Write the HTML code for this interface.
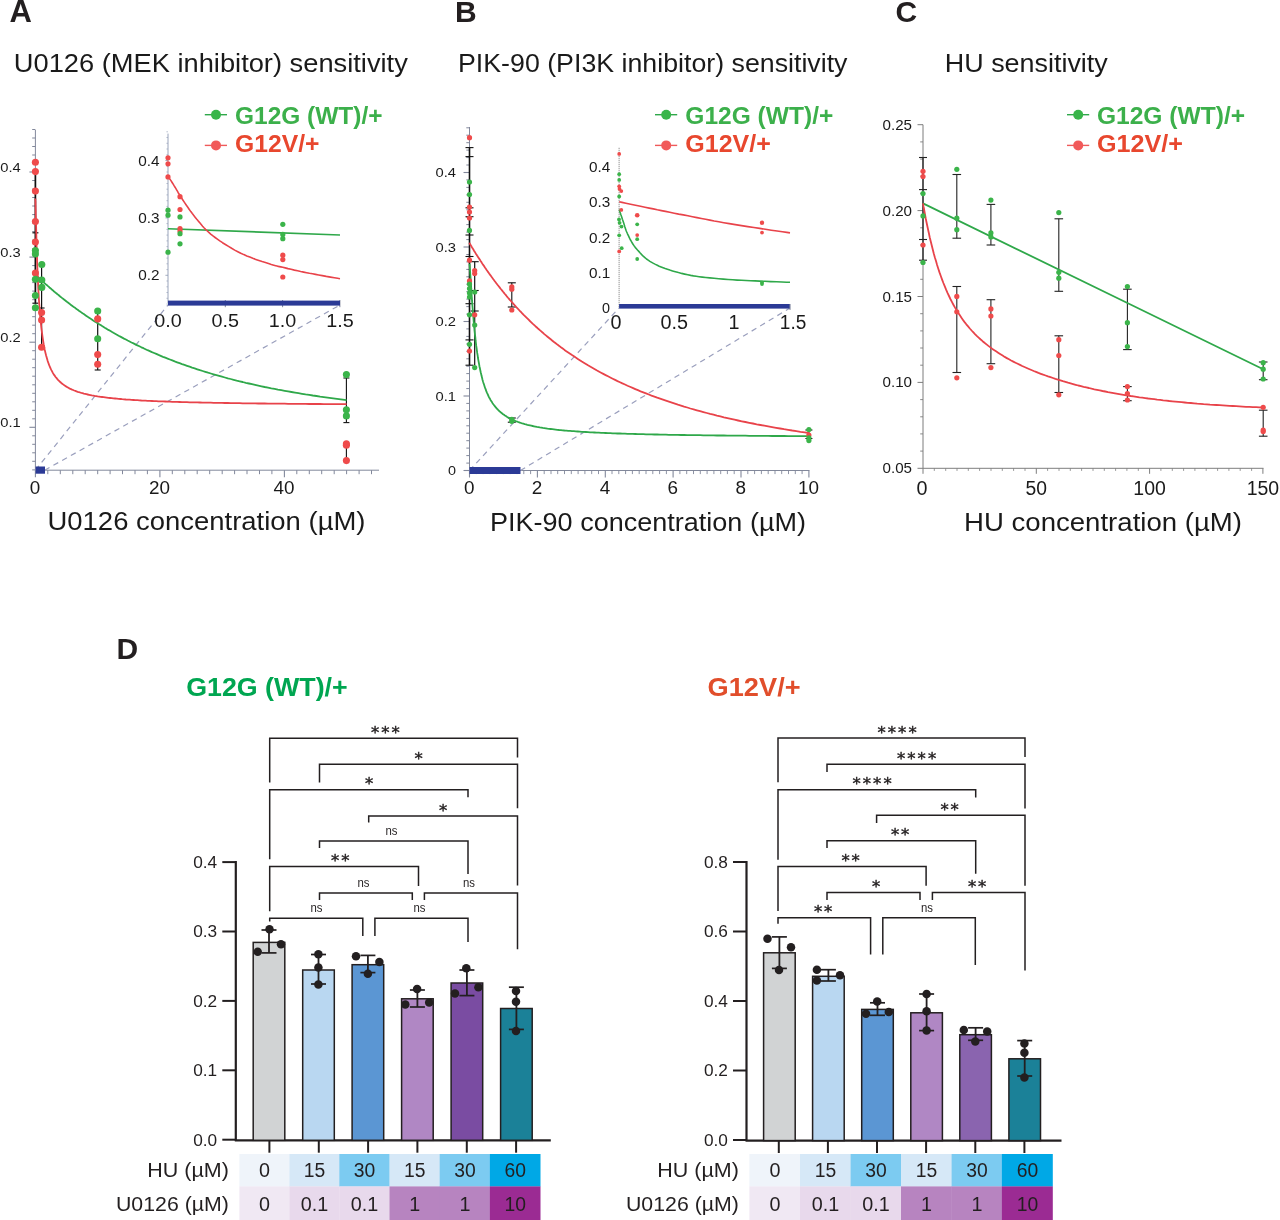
<!DOCTYPE html>
<html lang="en"><head><meta charset="utf-8"><title>Figure</title>
<style>html,body{margin:0;padding:0;background:#fff}svg{display:block}text{font-family:'Liberation Sans', sans-serif}text.st{font-family:'DejaVu Sans',sans-serif}</style></head><body>
<svg width="1280" height="1220" viewBox="0 0 1280 1220">
<rect width="1280" height="1220" fill="#fff"/>
<text x="9.4" y="21.5" font-size="31" font-weight="bold" fill="#231f20">A</text>
<text x="13.8" y="71.8" font-size="26" textLength="394.0" lengthAdjust="spacingAndGlyphs" fill="#1a1a1a">U0126 (MEK inhibitor) sensitivity</text>
<line x1="204.8" y1="114.7" x2="227.0" y2="114.7" stroke="#2fa84a" stroke-width="1.4"/>
<circle cx="216.0" cy="114.7" r="5" fill="#39b54a"/>
<text x="235.0" y="123.9" font-size="24.2" font-weight="bold" textLength="147.5" lengthAdjust="spacingAndGlyphs" fill="#3cb04b">G12G (WT)/+</text>
<line x1="204.8" y1="145.4" x2="227.0" y2="145.4" stroke="#ef5a5a" stroke-width="1.4"/>
<circle cx="216.0" cy="145.4" r="5" fill="#f15a5a"/>
<text x="235.0" y="151.8" font-size="24.2" font-weight="bold" textLength="84.5" lengthAdjust="spacingAndGlyphs" fill="#e8472e">G12V/+</text>
<line x1="35.4" y1="130.0" x2="35.4" y2="470.2" stroke="#82889b" stroke-width="1"/>
<line x1="35.4" y1="470.2" x2="379.0" y2="470.2" stroke="#82889b" stroke-width="1"/>
<line x1="32.2" y1="469.9" x2="35.4" y2="469.9" stroke="#82889b" stroke-width="1"/>
<line x1="32.2" y1="461.3" x2="35.4" y2="461.3" stroke="#82889b" stroke-width="1"/>
<line x1="32.2" y1="452.8" x2="35.4" y2="452.8" stroke="#82889b" stroke-width="1"/>
<line x1="32.2" y1="444.3" x2="35.4" y2="444.3" stroke="#82889b" stroke-width="1"/>
<line x1="32.2" y1="435.8" x2="35.4" y2="435.8" stroke="#82889b" stroke-width="1"/>
<line x1="29.4" y1="427.3" x2="35.4" y2="427.3" stroke="#82889b" stroke-width="1.1"/>
<line x1="32.2" y1="418.8" x2="35.4" y2="418.8" stroke="#82889b" stroke-width="1"/>
<line x1="32.2" y1="410.3" x2="35.4" y2="410.3" stroke="#82889b" stroke-width="1"/>
<line x1="32.2" y1="401.8" x2="35.4" y2="401.8" stroke="#82889b" stroke-width="1"/>
<line x1="32.2" y1="393.3" x2="35.4" y2="393.3" stroke="#82889b" stroke-width="1"/>
<line x1="32.2" y1="384.8" x2="35.4" y2="384.8" stroke="#82889b" stroke-width="1"/>
<line x1="32.2" y1="376.2" x2="35.4" y2="376.2" stroke="#82889b" stroke-width="1"/>
<line x1="32.2" y1="367.7" x2="35.4" y2="367.7" stroke="#82889b" stroke-width="1"/>
<line x1="32.2" y1="359.2" x2="35.4" y2="359.2" stroke="#82889b" stroke-width="1"/>
<line x1="32.2" y1="350.7" x2="35.4" y2="350.7" stroke="#82889b" stroke-width="1"/>
<line x1="29.4" y1="342.2" x2="35.4" y2="342.2" stroke="#82889b" stroke-width="1.1"/>
<line x1="32.2" y1="333.7" x2="35.4" y2="333.7" stroke="#82889b" stroke-width="1"/>
<line x1="32.2" y1="325.2" x2="35.4" y2="325.2" stroke="#82889b" stroke-width="1"/>
<line x1="32.2" y1="316.7" x2="35.4" y2="316.7" stroke="#82889b" stroke-width="1"/>
<line x1="32.2" y1="308.2" x2="35.4" y2="308.2" stroke="#82889b" stroke-width="1"/>
<line x1="32.2" y1="299.7" x2="35.4" y2="299.7" stroke="#82889b" stroke-width="1"/>
<line x1="32.2" y1="291.1" x2="35.4" y2="291.1" stroke="#82889b" stroke-width="1"/>
<line x1="32.2" y1="282.6" x2="35.4" y2="282.6" stroke="#82889b" stroke-width="1"/>
<line x1="32.2" y1="274.1" x2="35.4" y2="274.1" stroke="#82889b" stroke-width="1"/>
<line x1="32.2" y1="265.6" x2="35.4" y2="265.6" stroke="#82889b" stroke-width="1"/>
<line x1="29.4" y1="257.1" x2="35.4" y2="257.1" stroke="#82889b" stroke-width="1.1"/>
<line x1="32.2" y1="248.6" x2="35.4" y2="248.6" stroke="#82889b" stroke-width="1"/>
<line x1="32.2" y1="240.1" x2="35.4" y2="240.1" stroke="#82889b" stroke-width="1"/>
<line x1="32.2" y1="231.6" x2="35.4" y2="231.6" stroke="#82889b" stroke-width="1"/>
<line x1="32.2" y1="223.1" x2="35.4" y2="223.1" stroke="#82889b" stroke-width="1"/>
<line x1="32.2" y1="214.6" x2="35.4" y2="214.6" stroke="#82889b" stroke-width="1"/>
<line x1="32.2" y1="206.0" x2="35.4" y2="206.0" stroke="#82889b" stroke-width="1"/>
<line x1="32.2" y1="197.5" x2="35.4" y2="197.5" stroke="#82889b" stroke-width="1"/>
<line x1="32.2" y1="189.0" x2="35.4" y2="189.0" stroke="#82889b" stroke-width="1"/>
<line x1="32.2" y1="180.5" x2="35.4" y2="180.5" stroke="#82889b" stroke-width="1"/>
<line x1="29.4" y1="172.0" x2="35.4" y2="172.0" stroke="#82889b" stroke-width="1.1"/>
<line x1="32.2" y1="163.5" x2="35.4" y2="163.5" stroke="#82889b" stroke-width="1"/>
<line x1="32.2" y1="155.0" x2="35.4" y2="155.0" stroke="#82889b" stroke-width="1"/>
<line x1="32.2" y1="146.5" x2="35.4" y2="146.5" stroke="#82889b" stroke-width="1"/>
<line x1="32.2" y1="138.0" x2="35.4" y2="138.0" stroke="#82889b" stroke-width="1"/>
<line x1="32.2" y1="129.5" x2="35.4" y2="129.5" stroke="#82889b" stroke-width="1"/>
<line x1="35.4" y1="470.2" x2="35.4" y2="477.2" stroke="#82889b" stroke-width="1.1"/>
<line x1="47.8" y1="470.2" x2="47.8" y2="474.2" stroke="#82889b" stroke-width="1"/>
<line x1="60.3" y1="470.2" x2="60.3" y2="474.2" stroke="#82889b" stroke-width="1"/>
<line x1="72.8" y1="470.2" x2="72.8" y2="474.2" stroke="#82889b" stroke-width="1"/>
<line x1="85.2" y1="470.2" x2="85.2" y2="474.2" stroke="#82889b" stroke-width="1"/>
<line x1="97.7" y1="470.2" x2="97.7" y2="474.2" stroke="#82889b" stroke-width="1"/>
<line x1="110.1" y1="470.2" x2="110.1" y2="474.2" stroke="#82889b" stroke-width="1"/>
<line x1="122.5" y1="470.2" x2="122.5" y2="474.2" stroke="#82889b" stroke-width="1"/>
<line x1="135.0" y1="470.2" x2="135.0" y2="474.2" stroke="#82889b" stroke-width="1"/>
<line x1="147.4" y1="470.2" x2="147.4" y2="474.2" stroke="#82889b" stroke-width="1"/>
<line x1="159.9" y1="470.2" x2="159.9" y2="477.2" stroke="#82889b" stroke-width="1.1"/>
<line x1="172.3" y1="470.2" x2="172.3" y2="474.2" stroke="#82889b" stroke-width="1"/>
<line x1="184.8" y1="470.2" x2="184.8" y2="474.2" stroke="#82889b" stroke-width="1"/>
<line x1="197.2" y1="470.2" x2="197.2" y2="474.2" stroke="#82889b" stroke-width="1"/>
<line x1="209.7" y1="470.2" x2="209.7" y2="474.2" stroke="#82889b" stroke-width="1"/>
<line x1="222.2" y1="470.2" x2="222.2" y2="474.2" stroke="#82889b" stroke-width="1"/>
<line x1="234.6" y1="470.2" x2="234.6" y2="474.2" stroke="#82889b" stroke-width="1"/>
<line x1="247.0" y1="470.2" x2="247.0" y2="474.2" stroke="#82889b" stroke-width="1"/>
<line x1="259.5" y1="470.2" x2="259.5" y2="474.2" stroke="#82889b" stroke-width="1"/>
<line x1="271.9" y1="470.2" x2="271.9" y2="474.2" stroke="#82889b" stroke-width="1"/>
<line x1="284.4" y1="470.2" x2="284.4" y2="477.2" stroke="#82889b" stroke-width="1.1"/>
<line x1="296.8" y1="470.2" x2="296.8" y2="474.2" stroke="#82889b" stroke-width="1"/>
<line x1="309.3" y1="470.2" x2="309.3" y2="474.2" stroke="#82889b" stroke-width="1"/>
<line x1="321.7" y1="470.2" x2="321.7" y2="474.2" stroke="#82889b" stroke-width="1"/>
<line x1="334.2" y1="470.2" x2="334.2" y2="474.2" stroke="#82889b" stroke-width="1"/>
<line x1="346.6" y1="470.2" x2="346.6" y2="474.2" stroke="#82889b" stroke-width="1"/>
<line x1="359.1" y1="470.2" x2="359.1" y2="474.2" stroke="#82889b" stroke-width="1"/>
<line x1="371.5" y1="470.2" x2="371.5" y2="474.2" stroke="#82889b" stroke-width="1"/>
<text x="20.8" y="171.6" font-size="13.6" text-anchor="end" textLength="20.5" lengthAdjust="spacingAndGlyphs" fill="#1a1a1a">0.4</text>
<text x="20.8" y="256.7" font-size="13.6" text-anchor="end" textLength="20.5" lengthAdjust="spacingAndGlyphs" fill="#1a1a1a">0.3</text>
<text x="20.8" y="341.8" font-size="13.6" text-anchor="end" textLength="20.5" lengthAdjust="spacingAndGlyphs" fill="#1a1a1a">0.2</text>
<text x="20.8" y="426.9" font-size="13.6" text-anchor="end" textLength="20.5" lengthAdjust="spacingAndGlyphs" fill="#1a1a1a">0.1</text>
<text x="34.9" y="494.4" font-size="19" text-anchor="middle" textLength="10.5" lengthAdjust="spacingAndGlyphs" fill="#1a1a1a">0</text>
<text x="159.4" y="494.4" font-size="19" text-anchor="middle" textLength="21.0" lengthAdjust="spacingAndGlyphs" fill="#1a1a1a">20</text>
<text x="283.9" y="494.4" font-size="19" text-anchor="middle" textLength="21.0" lengthAdjust="spacingAndGlyphs" fill="#1a1a1a">40</text>
<text x="47.5" y="530.0" font-size="26" textLength="318.0" lengthAdjust="spacingAndGlyphs" fill="#1a1a1a">U0126 concentration (µM)</text>
<line x1="35.4" y1="470.2" x2="168.0" y2="305.0" stroke="#9a9fbd" stroke-width="1.2" stroke-dasharray="5.5,4.5"/>
<line x1="44.7" y1="470.2" x2="340.0" y2="305.0" stroke="#9a9fbd" stroke-width="1.2" stroke-dasharray="5.5,4.5"/>
<line x1="35.4" y1="171.0" x2="35.4" y2="303.2" stroke="#111" stroke-width="1.7"/>
<line x1="32.4" y1="232.8" x2="38.4" y2="232.8" stroke="#111" stroke-width="1.2"/>
<line x1="32.4" y1="303.2" x2="38.4" y2="303.2" stroke="#111" stroke-width="1.2"/>
<line x1="41.6" y1="262.0" x2="41.6" y2="347.0" stroke="#111" stroke-width="1.2"/>
<line x1="38.6" y1="308.0" x2="44.6" y2="308.0" stroke="#111" stroke-width="1.1"/>
<line x1="97.7" y1="311.0" x2="97.7" y2="370.0" stroke="#111" stroke-width="1.2"/>
<line x1="94.7" y1="370.0" x2="100.7" y2="370.0" stroke="#111" stroke-width="1.1"/>
<line x1="94.7" y1="318.5" x2="100.7" y2="318.5" stroke="#111" stroke-width="1.1"/>
<line x1="346.4" y1="378.0" x2="346.4" y2="422.6" stroke="#111" stroke-width="1.1"/>
<line x1="343.4" y1="378.0" x2="349.4" y2="378.0" stroke="#111" stroke-width="1.1"/>
<line x1="343.4" y1="422.6" x2="349.4" y2="422.6" stroke="#111" stroke-width="1.1"/>
<line x1="346.4" y1="445.0" x2="346.4" y2="460.0" stroke="#111" stroke-width="1.1"/>
<path d="M35.4,274.6 L35.4,274.6 L35.4,274.6 L35.4,274.6 L35.4,274.6 L35.4,274.6 L35.4,274.7 L35.5,274.7 L35.5,274.7 L35.5,274.7 L35.6,274.8 L35.6,274.8 L35.7,274.9 L35.7,274.9 L35.8,275.0 L35.9,275.1 L36.0,275.2 L36.1,275.2 L36.2,275.3 L36.3,275.4 L36.4,275.6 L36.5,275.7 L36.6,275.8 L36.8,275.9 L37.0,276.1 L37.1,276.2 L37.3,276.4 L37.5,276.6 L37.7,276.8 L37.9,277.0 L38.1,277.2 L38.3,277.4 L38.6,277.6 L38.8,277.9 L39.1,278.1 L39.4,278.4 L39.7,278.6 L40.0,278.9 L40.3,279.2 L40.6,279.5 L41.0,279.8 L41.3,280.2 L41.7,280.5 L42.1,280.8 L42.5,281.2 L42.9,281.6 L43.3,282.0 L43.7,282.4 L44.2,282.8 L44.6,283.2 L45.1,283.6 L45.6,284.1 L46.1,284.5 L46.7,285.0 L47.2,285.4 L47.7,285.9 L48.3,286.4 L48.9,286.9 L49.5,287.5 L50.1,288.0 L50.7,288.6 L51.4,289.1 L52.1,289.7 L52.7,290.3 L53.4,290.8 L54.1,291.5 L54.9,292.1 L55.6,292.7 L56.4,293.3 L57.2,294.0 L58.0,294.6 L58.8,295.3 L59.6,296.0 L60.5,296.7 L61.3,297.4 L62.2,298.1 L63.1,298.8 L64.0,299.5 L65.0,300.3 L65.9,301.0 L66.9,301.8 L67.9,302.5 L68.9,303.3 L69.9,304.1 L71.0,304.9 L72.1,305.7 L73.1,306.5 L74.2,307.3 L75.4,308.1 L76.5,309.0 L77.7,309.8 L78.9,310.7 L80.1,311.5 L81.3,312.4 L82.5,313.3 L83.8,314.1 L85.1,315.0 L86.4,315.9 L87.7,316.8 L89.1,317.7 L90.4,318.6 L91.8,319.5 L93.2,320.5 L94.6,321.4 L96.1,322.3 L97.6,323.3 L99.1,324.2 L100.6,325.1 L102.1,326.1 L103.6,327.0 L105.2,328.0 L106.8,328.9 L108.4,329.9 L110.1,330.8 L111.7,331.8 L113.4,332.8 L115.1,333.7 L116.9,334.7 L118.6,335.7 L120.4,336.6 L122.2,337.6 L124.0,338.6 L125.9,339.5 L127.7,340.5 L129.6,341.5 L131.5,342.5 L133.5,343.4 L135.4,344.4 L137.4,345.4 L139.4,346.3 L141.4,347.3 L143.5,348.2 L145.5,349.2 L147.6,350.2 L149.8,351.1 L151.9,352.1 L154.1,353.0 L156.3,353.9 L158.5,354.9 L160.7,355.8 L163.0,356.8 L165.3,357.7 L167.6,358.6 L169.9,359.5 L172.3,360.4 L174.7,361.4 L177.1,362.3 L179.6,363.2 L182.0,364.1 L184.5,364.9 L187.0,365.8 L189.6,366.7 L192.1,367.6 L194.7,368.4 L197.3,369.3 L200.0,370.2 L202.6,371.0 L205.3,371.8 L208.1,372.7 L210.8,373.5 L213.6,374.3 L216.4,375.1 L219.2,375.9 L222.0,376.7 L224.9,377.5 L227.8,378.3 L230.7,379.0 L233.7,379.8 L236.7,380.6 L239.7,381.3 L242.7,382.0 L245.8,382.8 L248.9,383.5 L252.0,384.2 L255.1,384.9 L258.3,385.6 L261.5,386.3 L264.7,387.0 L268.0,387.6 L271.3,388.3 L274.6,388.9 L277.9,389.6 L281.3,390.2 L284.7,390.8 L288.1,391.4 L291.5,392.0 L295.0,392.6 L298.5,393.2 L302.0,393.8 L305.6,394.4 L309.2,394.9 L312.8,395.5 L316.5,396.0 L320.1,396.6 L323.8,397.1 L327.6,397.6 L331.3,398.1 L335.1,398.6 L338.9,399.1 L342.8,399.6 L346.6,400.1" fill="none" stroke="#2fa84a" stroke-width="1.8" stroke-linejoin="round"/>
<path d="M35.4,198.5 L35.4,198.5 L35.4,198.6 L35.4,198.8 L35.4,199.2 L35.4,199.7 L35.4,200.5 L35.5,201.5 L35.5,202.7 L35.5,204.2 L35.6,206.0 L35.6,208.1 L35.7,210.4 L35.7,213.1 L35.8,216.0 L35.9,219.2 L36.0,222.7 L36.1,226.4 L36.2,230.3 L36.3,234.4 L36.4,238.6 L36.5,243.0 L36.6,247.5 L36.8,252.2 L37.0,256.8 L37.1,261.5 L37.3,266.2 L37.5,270.9 L37.7,275.6 L37.9,280.2 L38.1,284.8 L38.3,289.2 L38.6,293.6 L38.8,297.9 L39.1,302.0 L39.4,306.0 L39.7,310.0 L40.0,313.7 L40.3,317.4 L40.6,320.9 L41.0,324.3 L41.3,327.5 L41.7,330.7 L42.1,333.7 L42.5,336.6 L42.9,339.3 L43.3,342.0 L43.7,344.5 L44.2,346.9 L44.6,349.2 L45.1,351.4 L45.6,353.5 L46.1,355.5 L46.7,357.5 L47.2,359.3 L47.7,361.1 L48.3,362.7 L48.9,364.4 L49.5,365.9 L50.1,367.3 L50.7,368.7 L51.4,370.1 L52.1,371.4 L52.7,372.6 L53.4,373.8 L54.1,374.9 L54.9,375.9 L55.6,377.0 L56.4,377.9 L57.2,378.9 L58.0,379.8 L58.8,380.6 L59.6,381.5 L60.5,382.2 L61.3,383.0 L62.2,383.7 L63.1,384.4 L64.0,385.1 L65.0,385.7 L65.9,386.4 L66.9,386.9 L67.9,387.5 L68.9,388.1 L69.9,388.6 L71.0,389.1 L72.1,389.6 L73.1,390.0 L74.2,390.5 L75.4,390.9 L76.5,391.4 L77.7,391.8 L78.9,392.1 L80.1,392.5 L81.3,392.9 L82.5,393.2 L83.8,393.6 L85.1,393.9 L86.4,394.2 L87.7,394.5 L89.1,394.8 L90.4,395.1 L91.8,395.4 L93.2,395.6 L94.6,395.9 L96.1,396.1 L97.6,396.4 L99.1,396.6 L100.6,396.8 L102.1,397.0 L103.6,397.2 L105.2,397.4 L106.8,397.6 L108.4,397.8 L110.1,398.0 L111.7,398.2 L113.4,398.4 L115.1,398.5 L116.9,398.7 L118.6,398.9 L120.4,399.0 L122.2,399.2 L124.0,399.3 L125.9,399.5 L127.7,399.6 L129.6,399.7 L131.5,399.9 L133.5,400.0 L135.4,400.1 L137.4,400.2 L139.4,400.3 L141.4,400.5 L143.5,400.6 L145.5,400.7 L147.6,400.8 L149.8,400.9 L151.9,401.0 L154.1,401.1 L156.3,401.2 L158.5,401.3 L160.7,401.3 L163.0,401.4 L165.3,401.5 L167.6,401.6 L169.9,401.7 L172.3,401.8 L174.7,401.8 L177.1,401.9 L179.6,402.0 L182.0,402.1 L184.5,402.1 L187.0,402.2 L189.6,402.3 L192.1,402.3 L194.7,402.4 L197.3,402.4 L200.0,402.5 L202.6,402.6 L205.3,402.6 L208.1,402.7 L210.8,402.7 L213.6,402.8 L216.4,402.8 L219.2,402.9 L222.0,402.9 L224.9,403.0 L227.8,403.0 L230.7,403.1 L233.7,403.1 L236.7,403.2 L239.7,403.2 L242.7,403.3 L245.8,403.3 L248.9,403.3 L252.0,403.4 L255.1,403.4 L258.3,403.5 L261.5,403.5 L264.7,403.5 L268.0,403.6 L271.3,403.6 L274.6,403.6 L277.9,403.7 L281.3,403.7 L284.7,403.7 L288.1,403.8 L291.5,403.8 L295.0,403.8 L298.5,403.9 L302.0,403.9 L305.6,403.9 L309.2,404.0 L312.8,404.0 L316.5,404.0 L320.1,404.0 L323.8,404.1 L327.6,404.1 L331.3,404.1 L335.1,404.1 L338.9,404.2 L342.8,404.2 L346.6,404.2" fill="none" stroke="#e8434a" stroke-width="1.8" stroke-linejoin="round"/>
<circle cx="35.4" cy="162.3" r="3.55" fill="#ef4b4b"/>
<circle cx="35.4" cy="171.6" r="3.55" fill="#ef4b4b"/>
<circle cx="35.4" cy="191.1" r="3.55" fill="#ef4b4b"/>
<circle cx="35.4" cy="221.5" r="3.55" fill="#ef4b4b"/>
<circle cx="35.4" cy="242.0" r="3.55" fill="#ef4b4b"/>
<circle cx="35.4" cy="273.0" r="3.55" fill="#ef4b4b"/>
<circle cx="35.4" cy="250.5" r="3.55" fill="#3bb44a"/>
<circle cx="35.4" cy="254.0" r="3.55" fill="#3bb44a"/>
<circle cx="35.4" cy="279.3" r="3.55" fill="#3bb44a"/>
<circle cx="35.4" cy="295.5" r="3.55" fill="#3bb44a"/>
<circle cx="35.4" cy="307.7" r="3.55" fill="#3bb44a"/>
<circle cx="41.8" cy="264.5" r="3.55" fill="#3bb44a"/>
<circle cx="41.8" cy="280.0" r="3.55" fill="#3bb44a"/>
<circle cx="41.8" cy="287.4" r="3.55" fill="#3bb44a"/>
<circle cx="41.6" cy="312.5" r="3.55" fill="#ef4b4b"/>
<circle cx="41.6" cy="320.0" r="3.55" fill="#ef4b4b"/>
<circle cx="41.6" cy="347.2" r="3.55" fill="#ef4b4b"/>
<circle cx="97.7" cy="311.0" r="3.55" fill="#3bb44a"/>
<circle cx="97.7" cy="318.9" r="3.55" fill="#ef4b4b"/>
<circle cx="97.7" cy="338.7" r="3.55" fill="#3bb44a"/>
<circle cx="97.7" cy="354.6" r="3.55" fill="#ef4b4b"/>
<circle cx="97.7" cy="364.2" r="3.55" fill="#ef4b4b"/>
<circle cx="346.4" cy="374.6" r="3.55" fill="#3bb44a"/>
<circle cx="346.4" cy="409.8" r="3.55" fill="#3bb44a"/>
<circle cx="346.4" cy="415.9" r="3.55" fill="#3bb44a"/>
<circle cx="346.4" cy="443.8" r="3.55" fill="#ef4b4b"/>
<circle cx="346.4" cy="445.2" r="3.55" fill="#ef4b4b"/>
<circle cx="346.4" cy="460.6" r="3.55" fill="#ef4b4b"/>
<rect x="35.6" y="466.5" width="9.4" height="7.2" fill="#2b3a96"/>
<line x1="168.0" y1="133.6" x2="168.0" y2="303.0" stroke="#8e9ab3" stroke-width="0.9"/>
<line x1="166.4" y1="304.0" x2="168.0" y2="304.0" stroke="#8e9ab3" stroke-width="0.6"/>
<line x1="166.4" y1="298.3" x2="168.0" y2="298.3" stroke="#8e9ab3" stroke-width="0.6"/>
<line x1="166.4" y1="292.5" x2="168.0" y2="292.5" stroke="#8e9ab3" stroke-width="0.6"/>
<line x1="166.4" y1="286.8" x2="168.0" y2="286.8" stroke="#8e9ab3" stroke-width="0.6"/>
<line x1="166.4" y1="281.0" x2="168.0" y2="281.0" stroke="#8e9ab3" stroke-width="0.6"/>
<line x1="165.4" y1="275.3" x2="168.0" y2="275.3" stroke="#8e9ab3" stroke-width="0.8"/>
<line x1="166.4" y1="269.6" x2="168.0" y2="269.6" stroke="#8e9ab3" stroke-width="0.6"/>
<line x1="166.4" y1="263.8" x2="168.0" y2="263.8" stroke="#8e9ab3" stroke-width="0.6"/>
<line x1="166.4" y1="258.1" x2="168.0" y2="258.1" stroke="#8e9ab3" stroke-width="0.6"/>
<line x1="166.4" y1="252.3" x2="168.0" y2="252.3" stroke="#8e9ab3" stroke-width="0.6"/>
<line x1="166.4" y1="246.6" x2="168.0" y2="246.6" stroke="#8e9ab3" stroke-width="0.6"/>
<line x1="166.4" y1="240.9" x2="168.0" y2="240.9" stroke="#8e9ab3" stroke-width="0.6"/>
<line x1="166.4" y1="235.1" x2="168.0" y2="235.1" stroke="#8e9ab3" stroke-width="0.6"/>
<line x1="166.4" y1="229.4" x2="168.0" y2="229.4" stroke="#8e9ab3" stroke-width="0.6"/>
<line x1="166.4" y1="223.6" x2="168.0" y2="223.6" stroke="#8e9ab3" stroke-width="0.6"/>
<line x1="165.4" y1="217.9" x2="168.0" y2="217.9" stroke="#8e9ab3" stroke-width="0.8"/>
<line x1="166.4" y1="212.2" x2="168.0" y2="212.2" stroke="#8e9ab3" stroke-width="0.6"/>
<line x1="166.4" y1="206.4" x2="168.0" y2="206.4" stroke="#8e9ab3" stroke-width="0.6"/>
<line x1="166.4" y1="200.7" x2="168.0" y2="200.7" stroke="#8e9ab3" stroke-width="0.6"/>
<line x1="166.4" y1="194.9" x2="168.0" y2="194.9" stroke="#8e9ab3" stroke-width="0.6"/>
<line x1="166.4" y1="189.2" x2="168.0" y2="189.2" stroke="#8e9ab3" stroke-width="0.6"/>
<line x1="166.4" y1="183.5" x2="168.0" y2="183.5" stroke="#8e9ab3" stroke-width="0.6"/>
<line x1="166.4" y1="177.7" x2="168.0" y2="177.7" stroke="#8e9ab3" stroke-width="0.6"/>
<line x1="166.4" y1="172.0" x2="168.0" y2="172.0" stroke="#8e9ab3" stroke-width="0.6"/>
<line x1="166.4" y1="166.2" x2="168.0" y2="166.2" stroke="#8e9ab3" stroke-width="0.6"/>
<line x1="165.4" y1="160.5" x2="168.0" y2="160.5" stroke="#8e9ab3" stroke-width="0.8"/>
<line x1="166.4" y1="154.8" x2="168.0" y2="154.8" stroke="#8e9ab3" stroke-width="0.6"/>
<line x1="166.4" y1="149.0" x2="168.0" y2="149.0" stroke="#8e9ab3" stroke-width="0.6"/>
<line x1="166.4" y1="143.3" x2="168.0" y2="143.3" stroke="#8e9ab3" stroke-width="0.6"/>
<line x1="166.4" y1="137.5" x2="168.0" y2="137.5" stroke="#8e9ab3" stroke-width="0.6"/>
<line x1="166.4" y1="131.8" x2="168.0" y2="131.8" stroke="#8e9ab3" stroke-width="0.6"/>
<line x1="225.3" y1="300.0" x2="225.3" y2="307.2" stroke="#82889b" stroke-width="1"/>
<line x1="282.6" y1="300.0" x2="282.6" y2="307.2" stroke="#82889b" stroke-width="1"/>
<line x1="339.9" y1="300.0" x2="339.9" y2="307.2" stroke="#82889b" stroke-width="1"/>
<rect x="168" y="300.6" width="172" height="5" fill="#2b3a96"/>
<text x="159.6" y="165.6" font-size="14.6" text-anchor="end" textLength="21.3" lengthAdjust="spacingAndGlyphs" fill="#1a1a1a">0.4</text>
<text x="159.6" y="223.0" font-size="14.6" text-anchor="end" textLength="21.3" lengthAdjust="spacingAndGlyphs" fill="#1a1a1a">0.3</text>
<text x="159.6" y="280.4" font-size="14.6" text-anchor="end" textLength="21.3" lengthAdjust="spacingAndGlyphs" fill="#1a1a1a">0.2</text>
<text x="168.0" y="326.8" font-size="18.6" text-anchor="middle" textLength="27.5" lengthAdjust="spacingAndGlyphs" fill="#1a1a1a">0.0</text>
<text x="225.3" y="326.8" font-size="18.6" text-anchor="middle" textLength="27.5" lengthAdjust="spacingAndGlyphs" fill="#1a1a1a">0.5</text>
<text x="282.6" y="326.8" font-size="18.6" text-anchor="middle" textLength="27.5" lengthAdjust="spacingAndGlyphs" fill="#1a1a1a">1.0</text>
<text x="339.9" y="326.8" font-size="18.6" text-anchor="middle" textLength="27.5" lengthAdjust="spacingAndGlyphs" fill="#1a1a1a">1.5</text>
<path d="M168.0,228.7 L340.0,235.0" fill="none" stroke="#2fa84a" stroke-width="1.6" stroke-linejoin="round"/>
<path d="M168.0,176.5 L168.1,176.6 L168.1,176.6 L168.2,176.7 L168.4,176.9 L168.7,177.3 L169.2,178.0 L169.9,179.1 L170.8,180.4 L171.8,182.0 L172.9,183.7 L173.9,185.4 L174.9,187.0 L175.8,188.4 L176.6,189.8 L177.4,191.2 L178.2,192.7 L179.2,194.2 L180.3,196.0 L181.6,198.0 L183.0,200.2 L184.6,202.6 L186.2,205.0 L187.8,207.3 L189.3,209.5 L190.8,211.6 L192.3,213.6 L193.8,215.5 L195.3,217.4 L196.8,219.3 L198.3,221.1 L199.8,222.8 L201.2,224.5 L202.6,226.2 L204.0,227.8 L205.6,229.4 L207.3,231.0 L209.1,232.6 L211.0,234.3 L213.0,235.9 L215.1,237.5 L217.4,239.2 L219.8,240.9 L222.5,242.7 L225.4,244.5 L228.5,246.4 L231.6,248.3 L234.7,250.1 L237.8,251.7 L240.8,253.2 L243.8,254.6 L246.8,255.9 L249.8,257.1 L252.8,258.3 L255.8,259.4 L258.9,260.5 L262.1,261.6 L265.4,262.6 L268.5,263.6 L271.3,264.5 L273.8,265.2 L275.7,265.7 L277.1,266.1 L278.2,266.4 L279.4,266.6 L280.8,266.9 L282.7,267.3 L285.2,267.9 L288.0,268.6 L291.1,269.3 L294.4,270.1 L297.6,270.8 L300.7,271.5 L303.7,272.1 L306.6,272.7 L309.5,273.3 L312.5,273.8 L315.5,274.4 L318.7,275.0 L322.3,275.6 L326.3,276.4 L330.5,277.1 L334.4,277.7 L337.6,278.3 L340.0,278.7" fill="none" stroke="#e8434a" stroke-width="1.6" stroke-linejoin="round"/>
<circle cx="168.0" cy="157.8" r="2.6" fill="#ef4b4b"/>
<circle cx="168.0" cy="163.8" r="2.6" fill="#ef4b4b"/>
<circle cx="168.0" cy="176.9" r="2.6" fill="#ef4b4b"/>
<circle cx="168.0" cy="210.2" r="2.6" fill="#3bb44a"/>
<circle cx="168.0" cy="215.2" r="2.6" fill="#3bb44a"/>
<circle cx="168.0" cy="252.2" r="2.6" fill="#3bb44a"/>
<circle cx="180.0" cy="196.7" r="2.6" fill="#ef4b4b"/>
<circle cx="180.0" cy="209.5" r="2.6" fill="#ef4b4b"/>
<circle cx="180.0" cy="216.9" r="2.6" fill="#3bb44a"/>
<circle cx="180.0" cy="228.5" r="2.6" fill="#ef4b4b"/>
<circle cx="180.0" cy="231.0" r="2.6" fill="#ef4b4b"/>
<circle cx="180.0" cy="233.7" r="2.6" fill="#3bb44a"/>
<circle cx="180.0" cy="243.8" r="2.6" fill="#3bb44a"/>
<circle cx="282.8" cy="224.3" r="2.6" fill="#3bb44a"/>
<circle cx="282.8" cy="234.4" r="2.6" fill="#3bb44a"/>
<circle cx="282.8" cy="238.7" r="2.6" fill="#3bb44a"/>
<circle cx="282.8" cy="255.2" r="2.6" fill="#ef4b4b"/>
<circle cx="282.8" cy="259.6" r="2.6" fill="#ef4b4b"/>
<circle cx="282.8" cy="277.0" r="2.6" fill="#ef4b4b"/>
<text x="455.0" y="21.5" font-size="30" font-weight="bold" fill="#231f20">B</text>
<text x="458.0" y="71.8" font-size="26" textLength="389.5" lengthAdjust="spacingAndGlyphs" fill="#1a1a1a">PIK-90 (PI3K inhibitor) sensitivity</text>
<line x1="655.0" y1="114.7" x2="677.2" y2="114.7" stroke="#2fa84a" stroke-width="1.4"/>
<circle cx="666.2" cy="114.7" r="5" fill="#39b54a"/>
<text x="685.3" y="123.9" font-size="24.2" font-weight="bold" textLength="148.0" lengthAdjust="spacingAndGlyphs" fill="#3cb04b">G12G (WT)/+</text>
<line x1="655.0" y1="145.4" x2="677.2" y2="145.4" stroke="#ef5a5a" stroke-width="1.4"/>
<circle cx="666.2" cy="145.4" r="5" fill="#f15a5a"/>
<text x="685.3" y="151.8" font-size="24.2" font-weight="bold" textLength="85.5" lengthAdjust="spacingAndGlyphs" fill="#e8472e">G12V/+</text>
<line x1="469.5" y1="127.0" x2="469.5" y2="470.5" stroke="#82889b" stroke-width="1"/>
<line x1="464.5" y1="470.5" x2="809.5" y2="470.5" stroke="#82889b" stroke-width="1"/>
<line x1="463.5" y1="470.5" x2="469.5" y2="470.5" stroke="#82889b" stroke-width="1.1"/>
<line x1="466.3" y1="463.1" x2="469.5" y2="463.1" stroke="#82889b" stroke-width="1"/>
<line x1="466.3" y1="455.6" x2="469.5" y2="455.6" stroke="#82889b" stroke-width="1"/>
<line x1="466.3" y1="448.1" x2="469.5" y2="448.1" stroke="#82889b" stroke-width="1"/>
<line x1="466.3" y1="440.7" x2="469.5" y2="440.7" stroke="#82889b" stroke-width="1"/>
<line x1="466.3" y1="433.2" x2="469.5" y2="433.2" stroke="#82889b" stroke-width="1"/>
<line x1="466.3" y1="425.8" x2="469.5" y2="425.8" stroke="#82889b" stroke-width="1"/>
<line x1="466.3" y1="418.4" x2="469.5" y2="418.4" stroke="#82889b" stroke-width="1"/>
<line x1="466.3" y1="410.9" x2="469.5" y2="410.9" stroke="#82889b" stroke-width="1"/>
<line x1="466.3" y1="403.4" x2="469.5" y2="403.4" stroke="#82889b" stroke-width="1"/>
<line x1="463.5" y1="396.0" x2="469.5" y2="396.0" stroke="#82889b" stroke-width="1.1"/>
<line x1="466.3" y1="388.6" x2="469.5" y2="388.6" stroke="#82889b" stroke-width="1"/>
<line x1="466.3" y1="381.1" x2="469.5" y2="381.1" stroke="#82889b" stroke-width="1"/>
<line x1="466.3" y1="373.6" x2="469.5" y2="373.6" stroke="#82889b" stroke-width="1"/>
<line x1="466.3" y1="366.2" x2="469.5" y2="366.2" stroke="#82889b" stroke-width="1"/>
<line x1="466.3" y1="358.8" x2="469.5" y2="358.8" stroke="#82889b" stroke-width="1"/>
<line x1="466.3" y1="351.3" x2="469.5" y2="351.3" stroke="#82889b" stroke-width="1"/>
<line x1="466.3" y1="343.9" x2="469.5" y2="343.9" stroke="#82889b" stroke-width="1"/>
<line x1="466.3" y1="336.4" x2="469.5" y2="336.4" stroke="#82889b" stroke-width="1"/>
<line x1="466.3" y1="328.9" x2="469.5" y2="328.9" stroke="#82889b" stroke-width="1"/>
<line x1="463.5" y1="321.5" x2="469.5" y2="321.5" stroke="#82889b" stroke-width="1.1"/>
<line x1="466.3" y1="314.1" x2="469.5" y2="314.1" stroke="#82889b" stroke-width="1"/>
<line x1="466.3" y1="306.6" x2="469.5" y2="306.6" stroke="#82889b" stroke-width="1"/>
<line x1="466.3" y1="299.1" x2="469.5" y2="299.1" stroke="#82889b" stroke-width="1"/>
<line x1="466.3" y1="291.7" x2="469.5" y2="291.7" stroke="#82889b" stroke-width="1"/>
<line x1="466.3" y1="284.2" x2="469.5" y2="284.2" stroke="#82889b" stroke-width="1"/>
<line x1="466.3" y1="276.8" x2="469.5" y2="276.8" stroke="#82889b" stroke-width="1"/>
<line x1="466.3" y1="269.4" x2="469.5" y2="269.4" stroke="#82889b" stroke-width="1"/>
<line x1="466.3" y1="261.9" x2="469.5" y2="261.9" stroke="#82889b" stroke-width="1"/>
<line x1="466.3" y1="254.5" x2="469.5" y2="254.5" stroke="#82889b" stroke-width="1"/>
<line x1="463.5" y1="247.0" x2="469.5" y2="247.0" stroke="#82889b" stroke-width="1.1"/>
<line x1="466.3" y1="239.6" x2="469.5" y2="239.6" stroke="#82889b" stroke-width="1"/>
<line x1="466.3" y1="232.1" x2="469.5" y2="232.1" stroke="#82889b" stroke-width="1"/>
<line x1="466.3" y1="224.6" x2="469.5" y2="224.6" stroke="#82889b" stroke-width="1"/>
<line x1="466.3" y1="217.2" x2="469.5" y2="217.2" stroke="#82889b" stroke-width="1"/>
<line x1="466.3" y1="209.8" x2="469.5" y2="209.8" stroke="#82889b" stroke-width="1"/>
<line x1="466.3" y1="202.3" x2="469.5" y2="202.3" stroke="#82889b" stroke-width="1"/>
<line x1="466.3" y1="194.9" x2="469.5" y2="194.9" stroke="#82889b" stroke-width="1"/>
<line x1="466.3" y1="187.4" x2="469.5" y2="187.4" stroke="#82889b" stroke-width="1"/>
<line x1="466.3" y1="179.9" x2="469.5" y2="179.9" stroke="#82889b" stroke-width="1"/>
<line x1="463.5" y1="172.5" x2="469.5" y2="172.5" stroke="#82889b" stroke-width="1.1"/>
<line x1="466.3" y1="165.0" x2="469.5" y2="165.0" stroke="#82889b" stroke-width="1"/>
<line x1="466.3" y1="157.6" x2="469.5" y2="157.6" stroke="#82889b" stroke-width="1"/>
<line x1="466.3" y1="150.1" x2="469.5" y2="150.1" stroke="#82889b" stroke-width="1"/>
<line x1="466.3" y1="142.7" x2="469.5" y2="142.7" stroke="#82889b" stroke-width="1"/>
<line x1="466.3" y1="135.2" x2="469.5" y2="135.2" stroke="#82889b" stroke-width="1"/>
<line x1="466.3" y1="127.8" x2="469.5" y2="127.8" stroke="#82889b" stroke-width="1"/>
<line x1="469.5" y1="470.5" x2="469.5" y2="477.5" stroke="#82889b" stroke-width="1.1"/>
<line x1="476.3" y1="470.5" x2="476.3" y2="474.1" stroke="#82889b" stroke-width="0.9"/>
<line x1="483.1" y1="470.5" x2="483.1" y2="474.1" stroke="#82889b" stroke-width="0.9"/>
<line x1="489.9" y1="470.5" x2="489.9" y2="474.1" stroke="#82889b" stroke-width="0.9"/>
<line x1="496.7" y1="470.5" x2="496.7" y2="474.1" stroke="#82889b" stroke-width="0.9"/>
<line x1="503.4" y1="470.5" x2="503.4" y2="474.1" stroke="#82889b" stroke-width="0.9"/>
<line x1="510.2" y1="470.5" x2="510.2" y2="474.1" stroke="#82889b" stroke-width="0.9"/>
<line x1="517.0" y1="470.5" x2="517.0" y2="474.1" stroke="#82889b" stroke-width="0.9"/>
<line x1="523.8" y1="470.5" x2="523.8" y2="474.1" stroke="#82889b" stroke-width="0.9"/>
<line x1="530.6" y1="470.5" x2="530.6" y2="474.1" stroke="#82889b" stroke-width="0.9"/>
<line x1="537.4" y1="470.5" x2="537.4" y2="477.5" stroke="#82889b" stroke-width="1.1"/>
<line x1="544.2" y1="470.5" x2="544.2" y2="474.1" stroke="#82889b" stroke-width="0.9"/>
<line x1="551.0" y1="470.5" x2="551.0" y2="474.1" stroke="#82889b" stroke-width="0.9"/>
<line x1="557.7" y1="470.5" x2="557.7" y2="474.1" stroke="#82889b" stroke-width="0.9"/>
<line x1="564.5" y1="470.5" x2="564.5" y2="474.1" stroke="#82889b" stroke-width="0.9"/>
<line x1="571.3" y1="470.5" x2="571.3" y2="474.1" stroke="#82889b" stroke-width="0.9"/>
<line x1="578.1" y1="470.5" x2="578.1" y2="474.1" stroke="#82889b" stroke-width="0.9"/>
<line x1="584.9" y1="470.5" x2="584.9" y2="474.1" stroke="#82889b" stroke-width="0.9"/>
<line x1="591.7" y1="470.5" x2="591.7" y2="474.1" stroke="#82889b" stroke-width="0.9"/>
<line x1="598.5" y1="470.5" x2="598.5" y2="474.1" stroke="#82889b" stroke-width="0.9"/>
<line x1="605.3" y1="470.5" x2="605.3" y2="477.5" stroke="#82889b" stroke-width="1.1"/>
<line x1="612.0" y1="470.5" x2="612.0" y2="474.1" stroke="#82889b" stroke-width="0.9"/>
<line x1="618.8" y1="470.5" x2="618.8" y2="474.1" stroke="#82889b" stroke-width="0.9"/>
<line x1="625.6" y1="470.5" x2="625.6" y2="474.1" stroke="#82889b" stroke-width="0.9"/>
<line x1="632.4" y1="470.5" x2="632.4" y2="474.1" stroke="#82889b" stroke-width="0.9"/>
<line x1="639.2" y1="470.5" x2="639.2" y2="474.1" stroke="#82889b" stroke-width="0.9"/>
<line x1="646.0" y1="470.5" x2="646.0" y2="474.1" stroke="#82889b" stroke-width="0.9"/>
<line x1="652.8" y1="470.5" x2="652.8" y2="474.1" stroke="#82889b" stroke-width="0.9"/>
<line x1="659.6" y1="470.5" x2="659.6" y2="474.1" stroke="#82889b" stroke-width="0.9"/>
<line x1="666.4" y1="470.5" x2="666.4" y2="474.1" stroke="#82889b" stroke-width="0.9"/>
<line x1="673.1" y1="470.5" x2="673.1" y2="477.5" stroke="#82889b" stroke-width="1.1"/>
<line x1="679.9" y1="470.5" x2="679.9" y2="474.1" stroke="#82889b" stroke-width="0.9"/>
<line x1="686.7" y1="470.5" x2="686.7" y2="474.1" stroke="#82889b" stroke-width="0.9"/>
<line x1="693.5" y1="470.5" x2="693.5" y2="474.1" stroke="#82889b" stroke-width="0.9"/>
<line x1="700.3" y1="470.5" x2="700.3" y2="474.1" stroke="#82889b" stroke-width="0.9"/>
<line x1="707.1" y1="470.5" x2="707.1" y2="474.1" stroke="#82889b" stroke-width="0.9"/>
<line x1="713.9" y1="470.5" x2="713.9" y2="474.1" stroke="#82889b" stroke-width="0.9"/>
<line x1="720.7" y1="470.5" x2="720.7" y2="474.1" stroke="#82889b" stroke-width="0.9"/>
<line x1="727.4" y1="470.5" x2="727.4" y2="474.1" stroke="#82889b" stroke-width="0.9"/>
<line x1="734.2" y1="470.5" x2="734.2" y2="474.1" stroke="#82889b" stroke-width="0.9"/>
<line x1="741.0" y1="470.5" x2="741.0" y2="477.5" stroke="#82889b" stroke-width="1.1"/>
<line x1="747.8" y1="470.5" x2="747.8" y2="474.1" stroke="#82889b" stroke-width="0.9"/>
<line x1="754.6" y1="470.5" x2="754.6" y2="474.1" stroke="#82889b" stroke-width="0.9"/>
<line x1="761.4" y1="470.5" x2="761.4" y2="474.1" stroke="#82889b" stroke-width="0.9"/>
<line x1="768.2" y1="470.5" x2="768.2" y2="474.1" stroke="#82889b" stroke-width="0.9"/>
<line x1="775.0" y1="470.5" x2="775.0" y2="474.1" stroke="#82889b" stroke-width="0.9"/>
<line x1="781.7" y1="470.5" x2="781.7" y2="474.1" stroke="#82889b" stroke-width="0.9"/>
<line x1="788.5" y1="470.5" x2="788.5" y2="474.1" stroke="#82889b" stroke-width="0.9"/>
<line x1="795.3" y1="470.5" x2="795.3" y2="474.1" stroke="#82889b" stroke-width="0.9"/>
<line x1="802.1" y1="470.5" x2="802.1" y2="474.1" stroke="#82889b" stroke-width="0.9"/>
<line x1="808.9" y1="470.5" x2="808.9" y2="477.5" stroke="#82889b" stroke-width="1.1"/>
<text x="456.0" y="177.1" font-size="13.6" text-anchor="end" textLength="20.5" lengthAdjust="spacingAndGlyphs" fill="#1a1a1a">0.4</text>
<text x="456.0" y="251.6" font-size="13.6" text-anchor="end" textLength="20.5" lengthAdjust="spacingAndGlyphs" fill="#1a1a1a">0.3</text>
<text x="456.0" y="326.1" font-size="13.6" text-anchor="end" textLength="20.5" lengthAdjust="spacingAndGlyphs" fill="#1a1a1a">0.2</text>
<text x="456.0" y="400.6" font-size="13.6" text-anchor="end" textLength="20.5" lengthAdjust="spacingAndGlyphs" fill="#1a1a1a">0.1</text>
<text x="456.0" y="474.7" font-size="13.6" text-anchor="end" textLength="8.0" lengthAdjust="spacingAndGlyphs" fill="#1a1a1a">0</text>
<text x="469.2" y="494.4" font-size="19.2" text-anchor="middle" textLength="10.5" lengthAdjust="spacingAndGlyphs" fill="#1a1a1a">0</text>
<text x="537.1" y="494.4" font-size="19.2" text-anchor="middle" textLength="10.5" lengthAdjust="spacingAndGlyphs" fill="#1a1a1a">2</text>
<text x="605.0" y="494.4" font-size="19.2" text-anchor="middle" textLength="10.5" lengthAdjust="spacingAndGlyphs" fill="#1a1a1a">4</text>
<text x="672.8" y="494.4" font-size="19.2" text-anchor="middle" textLength="10.5" lengthAdjust="spacingAndGlyphs" fill="#1a1a1a">6</text>
<text x="740.7" y="494.4" font-size="19.2" text-anchor="middle" textLength="10.5" lengthAdjust="spacingAndGlyphs" fill="#1a1a1a">8</text>
<text x="808.6" y="494.4" font-size="19.2" text-anchor="middle" textLength="21.0" lengthAdjust="spacingAndGlyphs" fill="#1a1a1a">10</text>
<text x="490.0" y="530.5" font-size="26" textLength="316.0" lengthAdjust="spacingAndGlyphs" fill="#1a1a1a">PIK-90 concentration (µM)</text>
<line x1="469.5" y1="470.5" x2="619.0" y2="308.0" stroke="#9a9fbd" stroke-width="1.2" stroke-dasharray="5.5,4.5"/>
<line x1="520.4" y1="470.5" x2="790.0" y2="308.0" stroke="#9a9fbd" stroke-width="1.2" stroke-dasharray="5.5,4.5"/>
<line x1="469.5" y1="147.6" x2="469.5" y2="365.2" stroke="#111" stroke-width="1.6"/>
<line x1="465.5" y1="147.6" x2="473.5" y2="147.6" stroke="#111" stroke-width="1.1"/>
<line x1="465.5" y1="156.6" x2="473.5" y2="156.6" stroke="#111" stroke-width="1.1"/>
<line x1="465.5" y1="207.8" x2="473.5" y2="207.8" stroke="#111" stroke-width="1.1"/>
<line x1="465.5" y1="216.7" x2="473.5" y2="216.7" stroke="#111" stroke-width="1.1"/>
<line x1="465.5" y1="235.0" x2="473.5" y2="235.0" stroke="#111" stroke-width="1.1"/>
<line x1="465.5" y1="256.5" x2="473.5" y2="256.5" stroke="#111" stroke-width="1.1"/>
<line x1="465.5" y1="303.7" x2="473.5" y2="303.7" stroke="#111" stroke-width="1.1"/>
<line x1="465.5" y1="339.9" x2="473.5" y2="339.9" stroke="#111" stroke-width="1.1"/>
<line x1="465.5" y1="365.2" x2="473.5" y2="365.2" stroke="#111" stroke-width="1.1"/>
<line x1="474.7" y1="261.7" x2="474.7" y2="365.0" stroke="#111" stroke-width="1.2"/>
<line x1="470.7" y1="261.7" x2="478.7" y2="261.7" stroke="#111" stroke-width="1.1"/>
<line x1="470.7" y1="290.5" x2="478.7" y2="290.5" stroke="#111" stroke-width="1.1"/>
<line x1="470.7" y1="311.0" x2="478.7" y2="311.0" stroke="#111" stroke-width="1.1"/>
<line x1="511.8" y1="282.8" x2="511.8" y2="307.0" stroke="#111" stroke-width="1.1"/>
<line x1="507.8" y1="282.8" x2="515.8" y2="282.8" stroke="#111" stroke-width="1.1"/>
<line x1="507.8" y1="307.0" x2="515.8" y2="307.0" stroke="#111" stroke-width="1.1"/>
<line x1="507.8" y1="418.0" x2="515.8" y2="418.0" stroke="#111" stroke-width="1.1"/>
<line x1="507.8" y1="422.2" x2="515.8" y2="422.2" stroke="#111" stroke-width="1.1"/>
<line x1="808.9" y1="430.0" x2="808.9" y2="438.5" stroke="#111" stroke-width="1.1"/>
<line x1="805.4" y1="430.0" x2="812.4" y2="430.0" stroke="#111" stroke-width="1.1"/>
<line x1="805.4" y1="438.5" x2="812.4" y2="438.5" stroke="#111" stroke-width="1.1"/>
<path d="M469.5,243.1 L469.5,243.1 L469.5,243.1 L469.5,243.1 L469.5,243.1 L469.5,243.1 L469.5,243.1 L469.5,243.1 L469.5,243.1 L469.5,243.1 L469.5,243.2 L469.5,243.2 L469.5,243.2 L469.6,243.2 L469.6,243.2 L469.6,243.3 L469.6,243.3 L469.6,243.3 L469.6,243.4 L469.7,243.4 L469.7,243.5 L469.7,243.5 L469.8,243.6 L469.8,243.6 L469.8,243.7 L469.9,243.8 L469.9,243.9 L470.0,243.9 L470.0,244.0 L470.1,244.1 L470.2,244.2 L470.2,244.4 L470.3,244.5 L470.4,244.6 L470.5,244.8 L470.6,244.9 L470.6,245.1 L470.7,245.2 L470.8,245.4 L471.0,245.6 L471.1,245.8 L471.2,246.0 L471.3,246.2 L471.5,246.4 L471.6,246.6 L471.7,246.9 L471.9,247.1 L472.0,247.4 L472.2,247.7 L472.4,248.0 L472.6,248.3 L472.8,248.6 L473.0,248.9 L473.2,249.2 L473.4,249.6 L473.6,249.9 L473.8,250.3 L474.0,250.7 L474.3,251.1 L474.5,251.5 L474.8,251.9 L475.1,252.3 L475.4,252.8 L475.6,253.2 L475.9,253.7 L476.2,254.2 L476.6,254.7 L476.9,255.2 L477.2,255.7 L477.6,256.3 L477.9,256.8 L478.3,257.4 L478.7,258.0 L479.1,258.6 L479.4,259.2 L479.9,259.8 L480.3,260.5 L480.7,261.1 L481.2,261.8 L481.6,262.5 L482.1,263.2 L482.5,263.9 L483.0,264.6 L483.5,265.4 L484.1,266.1 L484.6,266.9 L485.1,267.7 L485.7,268.5 L486.2,269.3 L486.8,270.2 L487.4,271.0 L488.0,271.9 L488.6,272.7 L489.2,273.6 L489.9,274.5 L490.5,275.4 L491.2,276.3 L491.9,277.3 L492.6,278.2 L493.3,279.2 L494.1,280.2 L494.8,281.2 L495.6,282.2 L496.3,283.2 L497.1,284.2 L497.9,285.3 L498.7,286.3 L499.6,287.4 L500.4,288.5 L501.3,289.5 L502.2,290.6 L503.1,291.8 L504.0,292.9 L504.9,294.0 L505.9,295.1 L506.8,296.3 L507.8,297.5 L508.8,298.6 L509.8,299.8 L510.9,301.0 L511.9,302.2 L513.0,303.4 L514.1,304.6 L515.2,305.8 L516.3,307.1 L517.5,308.3 L518.6,309.5 L519.8,310.8 L521.0,312.0 L522.2,313.3 L523.4,314.6 L524.7,315.8 L526.0,317.1 L527.3,318.4 L528.6,319.7 L529.9,321.0 L531.3,322.3 L532.6,323.6 L534.0,324.9 L535.4,326.2 L536.9,327.5 L538.3,328.8 L539.8,330.1 L541.3,331.4 L542.8,332.7 L544.3,334.1 L545.9,335.4 L547.5,336.7 L549.1,338.0 L550.7,339.3 L552.4,340.7 L554.0,342.0 L555.7,343.3 L557.4,344.6 L559.2,345.9 L560.9,347.2 L562.7,348.5 L564.5,349.9 L566.3,351.2 L568.2,352.5 L570.1,353.8 L572.0,355.1 L573.9,356.3 L575.8,357.6 L577.8,358.9 L579.8,360.2 L581.8,361.5 L583.8,362.7 L585.9,364.0 L588.0,365.3 L590.1,366.5 L592.3,367.8 L594.4,369.0 L596.6,370.3 L598.8,371.5 L601.1,372.7 L603.3,373.9 L605.6,375.1 L608.0,376.3 L610.3,377.5 L612.7,378.7 L615.1,379.9 L617.5,381.1 L620.0,382.2 L622.4,383.4 L625.0,384.5 L627.5,385.7 L630.0,386.8 L632.6,387.9 L635.3,389.1 L637.9,390.2 L640.6,391.3 L643.3,392.3 L646.0,393.4 L648.8,394.5 L651.5,395.6 L654.4,396.6 L657.2,397.7 L660.1,398.7 L663.0,399.7 L665.9,400.7 L668.9,401.7 L671.9,402.7 L674.9,403.7 L677.9,404.7 L681.0,405.6 L684.1,406.6 L687.3,407.5 L690.4,408.5 L693.6,409.4 L696.9,410.3 L700.1,411.2 L703.4,412.1 L706.8,413.0 L710.1,413.9 L713.5,414.7 L716.9,415.6 L720.4,416.4 L723.9,417.3 L727.4,418.1 L730.9,418.9 L734.5,419.7 L738.1,420.5 L741.8,421.3 L745.4,422.0 L749.2,422.8 L752.9,423.5 L756.7,424.3 L760.5,425.0 L764.3,425.7 L768.2,426.4 L772.1,427.1 L776.1,427.8 L780.1,428.5 L784.1,429.2 L788.1,429.8 L792.2,430.5 L796.3,431.1 L800.5,431.8 L804.7,432.4 L808.9,433.0" fill="none" stroke="#e8434a" stroke-width="1.8" stroke-linejoin="round"/>
<path d="M469.5,263.8 L469.5,263.8 L469.5,263.8 L469.5,263.8 L469.5,263.8 L469.5,263.8 L469.5,263.8 L469.5,263.8 L469.5,263.9 L469.5,263.9 L469.5,264.0 L469.5,264.0 L469.5,264.1 L469.6,264.2 L469.6,264.4 L469.6,264.5 L469.6,264.7 L469.6,264.9 L469.6,265.2 L469.7,265.5 L469.7,265.8 L469.7,266.2 L469.8,266.6 L469.8,267.1 L469.8,267.7 L469.9,268.3 L469.9,269.0 L470.0,269.7 L470.0,270.5 L470.1,271.4 L470.2,272.4 L470.2,273.4 L470.3,274.5 L470.4,275.7 L470.5,277.0 L470.6,278.3 L470.6,279.8 L470.7,281.3 L470.8,282.9 L471.0,284.6 L471.1,286.4 L471.2,288.2 L471.3,290.1 L471.5,292.1 L471.6,294.2 L471.7,296.3 L471.9,298.5 L472.0,300.7 L472.2,303.0 L472.4,305.4 L472.6,307.8 L472.8,310.2 L473.0,312.7 L473.2,315.2 L473.4,317.7 L473.6,320.3 L473.8,322.8 L474.0,325.4 L474.3,328.0 L474.5,330.5 L474.8,333.1 L475.1,335.6 L475.4,338.2 L475.6,340.7 L475.9,343.2 L476.2,345.7 L476.6,348.1 L476.9,350.5 L477.2,352.9 L477.6,355.2 L477.9,357.5 L478.3,359.8 L478.7,362.0 L479.1,364.1 L479.4,366.2 L479.9,368.3 L480.3,370.3 L480.7,372.3 L481.2,374.2 L481.6,376.1 L482.1,377.9 L482.5,379.7 L483.0,381.5 L483.5,383.1 L484.1,384.8 L484.6,386.4 L485.1,387.9 L485.7,389.4 L486.2,390.9 L486.8,392.3 L487.4,393.6 L488.0,395.0 L488.6,396.3 L489.2,397.5 L489.9,398.7 L490.5,399.9 L491.2,401.0 L491.9,402.1 L492.6,403.2 L493.3,404.2 L494.1,405.2 L494.8,406.1 L495.6,407.1 L496.3,408.0 L497.1,408.8 L497.9,409.7 L498.7,410.5 L499.6,411.3 L500.4,412.0 L501.3,412.8 L502.2,413.5 L503.1,414.2 L504.0,414.8 L504.9,415.5 L505.9,416.1 L506.8,416.7 L507.8,417.3 L508.8,417.8 L509.8,418.4 L510.9,418.9 L511.9,419.4 L513.0,419.9 L514.1,420.4 L515.2,420.9 L516.3,421.3 L517.5,421.7 L518.6,422.2 L519.8,422.6 L521.0,423.0 L522.2,423.4 L523.4,423.7 L524.7,424.1 L526.0,424.4 L527.3,424.8 L528.6,425.1 L529.9,425.4 L531.3,425.7 L532.6,426.0 L534.0,426.3 L535.4,426.6 L536.9,426.9 L538.3,427.1 L539.8,427.4 L541.3,427.6 L542.8,427.9 L544.3,428.1 L545.9,428.3 L547.5,428.6 L549.1,428.8 L550.7,429.0 L552.4,429.2 L554.0,429.4 L555.7,429.6 L557.4,429.8 L559.2,430.0 L560.9,430.1 L562.7,430.3 L564.5,430.5 L566.3,430.6 L568.2,430.8 L570.1,430.9 L572.0,431.1 L573.9,431.2 L575.8,431.4 L577.8,431.5 L579.8,431.6 L581.8,431.8 L583.8,431.9 L585.9,432.0 L588.0,432.1 L590.1,432.3 L592.3,432.4 L594.4,432.5 L596.6,432.6 L598.8,432.7 L601.1,432.8 L603.3,432.9 L605.6,433.0 L608.0,433.1 L610.3,433.2 L612.7,433.3 L615.1,433.4 L617.5,433.5 L620.0,433.5 L622.4,433.6 L625.0,433.7 L627.5,433.8 L630.0,433.9 L632.6,433.9 L635.3,434.0 L637.9,434.1 L640.6,434.1 L643.3,434.2 L646.0,434.3 L648.8,434.3 L651.5,434.4 L654.4,434.5 L657.2,434.5 L660.1,434.6 L663.0,434.6 L665.9,434.7 L668.9,434.8 L671.9,434.8 L674.9,434.9 L677.9,434.9 L681.0,435.0 L684.1,435.0 L687.3,435.1 L690.4,435.1 L693.6,435.2 L696.9,435.2 L700.1,435.2 L703.4,435.3 L706.8,435.3 L710.1,435.4 L713.5,435.4 L716.9,435.5 L720.4,435.5 L723.9,435.5 L727.4,435.6 L730.9,435.6 L734.5,435.6 L738.1,435.7 L741.8,435.7 L745.4,435.7 L749.2,435.8 L752.9,435.8 L756.7,435.8 L760.5,435.9 L764.3,435.9 L768.2,435.9 L772.1,436.0 L776.1,436.0 L780.1,436.0 L784.1,436.0 L788.1,436.1 L792.2,436.1 L796.3,436.1 L800.5,436.1 L804.7,436.2 L808.9,436.2" fill="none" stroke="#2fa84a" stroke-width="1.8" stroke-linejoin="round"/>
<circle cx="469.5" cy="137.7" r="2.6" fill="#ef4b4b"/>
<circle cx="469.5" cy="207.0" r="2.6" fill="#ef4b4b"/>
<circle cx="469.5" cy="212.0" r="2.6" fill="#ef4b4b"/>
<circle cx="469.5" cy="218.0" r="2.6" fill="#ef4b4b"/>
<circle cx="469.5" cy="260.2" r="2.6" fill="#ef4b4b"/>
<circle cx="469.5" cy="280.9" r="2.6" fill="#ef4b4b"/>
<circle cx="469.5" cy="351.0" r="2.6" fill="#ef4b4b"/>
<circle cx="469.5" cy="182.0" r="2.6" fill="#3bb44a"/>
<circle cx="469.5" cy="194.5" r="2.6" fill="#3bb44a"/>
<circle cx="469.5" cy="230.4" r="2.6" fill="#3bb44a"/>
<circle cx="469.5" cy="284.0" r="2.6" fill="#3bb44a"/>
<circle cx="469.5" cy="288.5" r="2.6" fill="#3bb44a"/>
<circle cx="469.5" cy="293.0" r="2.6" fill="#3bb44a"/>
<circle cx="469.5" cy="297.0" r="2.6" fill="#3bb44a"/>
<circle cx="469.5" cy="314.8" r="2.6" fill="#3bb44a"/>
<circle cx="469.5" cy="344.3" r="2.6" fill="#3bb44a"/>
<circle cx="474.7" cy="270.6" r="2.6" fill="#ef4b4b"/>
<circle cx="474.7" cy="273.5" r="2.6" fill="#ef4b4b"/>
<circle cx="474.7" cy="292.0" r="2.6" fill="#3bb44a"/>
<circle cx="474.7" cy="314.8" r="2.6" fill="#ef4b4b"/>
<circle cx="474.7" cy="325.0" r="2.6" fill="#3bb44a"/>
<circle cx="474.7" cy="367.6" r="2.6" fill="#3bb44a"/>
<circle cx="511.8" cy="286.8" r="2.6" fill="#ef4b4b"/>
<circle cx="511.8" cy="289.2" r="2.6" fill="#ef4b4b"/>
<circle cx="511.8" cy="310.0" r="2.6" fill="#ef4b4b"/>
<circle cx="511.8" cy="419.3" r="2.6" fill="#3bb44a"/>
<circle cx="511.8" cy="421.3" r="2.6" fill="#3bb44a"/>
<circle cx="808.9" cy="429.5" r="2.6" fill="#3bb44a"/>
<circle cx="808.9" cy="435.0" r="2.6" fill="#ef4b4b"/>
<circle cx="808.9" cy="437.9" r="2.6" fill="#3bb44a"/>
<circle cx="808.9" cy="440.6" r="2.6" fill="#3bb44a"/>
<rect x="469.5" y="467" width="51" height="7" fill="#2b3a96"/>
<line x1="619.1" y1="147.8" x2="619.1" y2="308.0" stroke="#777" stroke-width="1" stroke-dasharray="1,1"/>
<rect x="619.1" y="304" width="171" height="4.6" fill="#2b3a96"/>
<text x="610.3" y="171.5" font-size="14.6" text-anchor="end" textLength="21.3" lengthAdjust="spacingAndGlyphs" fill="#1a1a1a">0.4</text>
<text x="610.3" y="207.0" font-size="14.6" text-anchor="end" textLength="21.3" lengthAdjust="spacingAndGlyphs" fill="#1a1a1a">0.3</text>
<text x="610.3" y="242.5" font-size="14.6" text-anchor="end" textLength="21.3" lengthAdjust="spacingAndGlyphs" fill="#1a1a1a">0.2</text>
<text x="610.3" y="278.0" font-size="14.6" text-anchor="end" textLength="21.3" lengthAdjust="spacingAndGlyphs" fill="#1a1a1a">0.1</text>
<text x="610.0" y="313.4" font-size="14.2" text-anchor="end" textLength="8.0" lengthAdjust="spacingAndGlyphs" fill="#1a1a1a">0</text>
<text x="615.9" y="329.3" font-size="19.3" text-anchor="middle" textLength="11.0" lengthAdjust="spacingAndGlyphs" fill="#1a1a1a">0</text>
<text x="674.2" y="329.3" font-size="19.3" text-anchor="middle" textLength="27.5" lengthAdjust="spacingAndGlyphs" fill="#1a1a1a">0.5</text>
<text x="733.9" y="329.3" font-size="19.3" text-anchor="middle" textLength="11.0" lengthAdjust="spacingAndGlyphs" fill="#1a1a1a">1</text>
<text x="793.1" y="329.3" font-size="19.3" text-anchor="middle" textLength="26.5" lengthAdjust="spacingAndGlyphs" fill="#1a1a1a">1.5</text>
<line x1="790.0" y1="304.0" x2="790.0" y2="310.0" stroke="#82889b" stroke-width="1"/>
<path d="M619.2,201.8 L622.0,202.4 L625.9,203.2 L630.6,204.2 L635.5,205.2 L640.5,206.3 L645.0,207.2 L649.2,208.1 L653.3,208.9 L657.3,209.8 L661.4,210.6 L665.5,211.4 L669.8,212.3 L674.2,213.2 L678.7,214.1 L683.3,214.9 L687.9,215.8 L692.5,216.7 L697.0,217.6 L701.4,218.5 L705.6,219.3 L709.9,220.1 L714.2,221.0 L718.8,221.8 L723.8,222.7 L729.3,223.6 L735.3,224.6 L741.5,225.6 L747.8,226.6 L753.9,227.5 L759.7,228.4 L765.4,229.3 L771.3,230.2 L777.1,231.0 L782.4,231.8 L786.8,232.4 L790.0,232.9" fill="none" stroke="#e8434a" stroke-width="1.6" stroke-linejoin="round"/>
<path d="M619.2,209.6 L619.6,210.9 L620.2,212.7 L620.9,214.8 L621.7,217.0 L622.4,219.3 L623.1,221.3 L623.7,223.1 L624.3,224.9 L624.8,226.7 L625.4,228.5 L626.0,230.2 L626.7,232.0 L627.5,233.8 L628.4,235.7 L629.3,237.6 L630.2,239.5 L631.2,241.2 L632.1,242.8 L633.0,244.2 L633.8,245.4 L634.6,246.5 L635.4,247.6 L636.4,248.7 L637.5,250.0 L638.8,251.4 L640.2,253.0 L641.7,254.6 L643.2,256.1 L644.9,257.6 L646.5,259.0 L648.2,260.2 L649.9,261.4 L651.7,262.4 L653.5,263.4 L655.4,264.4 L657.3,265.3 L659.2,266.2 L661.1,267.0 L663.1,267.8 L665.2,268.6 L667.4,269.3 L669.8,270.1 L672.5,270.9 L675.4,271.7 L678.5,272.6 L681.6,273.4 L684.7,274.1 L687.8,274.8 L690.7,275.4 L693.5,275.9 L696.2,276.3 L699.1,276.7 L702.3,277.1 L705.8,277.5 L709.8,277.9 L714.1,278.3 L718.7,278.7 L723.4,279.1 L728.1,279.5 L732.7,279.8 L737.2,280.1 L741.6,280.3 L746.0,280.5 L750.5,280.7 L755.0,280.9 L759.7,281.1 L764.9,281.3 L770.7,281.6 L776.5,281.8 L782.0,282.0 L786.7,282.2 L790.0,282.3" fill="none" stroke="#2fa84a" stroke-width="1.6" stroke-linejoin="round"/>
<circle cx="619.2" cy="153.9" r="1.9" fill="#ef4b4b"/>
<circle cx="619.2" cy="186.3" r="1.9" fill="#ef4b4b"/>
<circle cx="619.5" cy="188.9" r="1.9" fill="#ef4b4b"/>
<circle cx="621.3" cy="191.1" r="1.9" fill="#ef4b4b"/>
<circle cx="621.3" cy="209.9" r="1.9" fill="#ef4b4b"/>
<circle cx="619.2" cy="251.4" r="1.9" fill="#ef4b4b"/>
<circle cx="619.2" cy="174.2" r="1.9" fill="#3bb44a"/>
<circle cx="619.2" cy="179.9" r="1.9" fill="#3bb44a"/>
<circle cx="619.2" cy="196.5" r="1.9" fill="#3bb44a"/>
<circle cx="619.0" cy="219.5" r="1.9" fill="#3bb44a"/>
<circle cx="619.6" cy="222.8" r="1.9" fill="#3bb44a"/>
<circle cx="621.5" cy="226.6" r="1.9" fill="#3bb44a"/>
<circle cx="619.2" cy="235.3" r="1.9" fill="#3bb44a"/>
<circle cx="621.7" cy="248.2" r="1.9" fill="#3bb44a"/>
<circle cx="637.2" cy="215.3" r="2.3" fill="#ef4b4b"/>
<circle cx="637.2" cy="224.3" r="1.9" fill="#3bb44a"/>
<circle cx="637.2" cy="235.1" r="1.9" fill="#ef4b4b"/>
<circle cx="637.2" cy="239.2" r="1.9" fill="#3bb44a"/>
<circle cx="637.2" cy="259.0" r="1.9" fill="#3bb44a"/>
<circle cx="762.0" cy="222.7" r="2.1999999999999997" fill="#ef4b4b"/>
<circle cx="762.0" cy="232.6" r="1.9" fill="#ef4b4b"/>
<circle cx="762.0" cy="282.6" r="1.9" fill="#3bb44a"/>
<circle cx="762.0" cy="284.0" r="1.9" fill="#3bb44a"/>
<text x="895.5" y="21.5" font-size="30" font-weight="bold" fill="#231f20">C</text>
<text x="944.8" y="71.8" font-size="26" textLength="163.0" lengthAdjust="spacingAndGlyphs" fill="#1a1a1a">HU sensitivity</text>
<line x1="1067.0" y1="114.7" x2="1089.2" y2="114.7" stroke="#2fa84a" stroke-width="1.4"/>
<circle cx="1078.2" cy="114.7" r="5" fill="#39b54a"/>
<text x="1096.9" y="123.9" font-size="24.2" font-weight="bold" textLength="148.2" lengthAdjust="spacingAndGlyphs" fill="#3cb04b">G12G (WT)/+</text>
<line x1="1067.0" y1="145.4" x2="1089.2" y2="145.4" stroke="#ef5a5a" stroke-width="1.4"/>
<circle cx="1078.2" cy="145.4" r="5" fill="#f15a5a"/>
<text x="1096.9" y="151.8" font-size="24.2" font-weight="bold" textLength="86.0" lengthAdjust="spacingAndGlyphs" fill="#e8472e">G12V/+</text>
<line x1="923.0" y1="124.7" x2="923.0" y2="468.3" stroke="#7d7d7d" stroke-width="1"/>
<line x1="923.0" y1="468.3" x2="1263.5" y2="468.3" stroke="#7d7d7d" stroke-width="1"/>
<line x1="917.5" y1="468.3" x2="923.0" y2="468.3" stroke="#7d7d7d" stroke-width="1"/>
<line x1="920.2" y1="451.1" x2="923.0" y2="451.1" stroke="#7d7d7d" stroke-width="0.9"/>
<line x1="920.2" y1="433.9" x2="923.0" y2="433.9" stroke="#7d7d7d" stroke-width="0.9"/>
<line x1="920.2" y1="416.8" x2="923.0" y2="416.8" stroke="#7d7d7d" stroke-width="0.9"/>
<line x1="920.2" y1="399.6" x2="923.0" y2="399.6" stroke="#7d7d7d" stroke-width="0.9"/>
<line x1="917.5" y1="382.4" x2="923.0" y2="382.4" stroke="#7d7d7d" stroke-width="1"/>
<line x1="920.2" y1="365.2" x2="923.0" y2="365.2" stroke="#7d7d7d" stroke-width="0.9"/>
<line x1="920.2" y1="348.0" x2="923.0" y2="348.0" stroke="#7d7d7d" stroke-width="0.9"/>
<line x1="920.2" y1="330.9" x2="923.0" y2="330.9" stroke="#7d7d7d" stroke-width="0.9"/>
<line x1="920.2" y1="313.7" x2="923.0" y2="313.7" stroke="#7d7d7d" stroke-width="0.9"/>
<line x1="917.5" y1="296.5" x2="923.0" y2="296.5" stroke="#7d7d7d" stroke-width="1"/>
<line x1="920.2" y1="279.3" x2="923.0" y2="279.3" stroke="#7d7d7d" stroke-width="0.9"/>
<line x1="920.2" y1="262.1" x2="923.0" y2="262.1" stroke="#7d7d7d" stroke-width="0.9"/>
<line x1="920.2" y1="245.0" x2="923.0" y2="245.0" stroke="#7d7d7d" stroke-width="0.9"/>
<line x1="920.2" y1="227.8" x2="923.0" y2="227.8" stroke="#7d7d7d" stroke-width="0.9"/>
<line x1="917.5" y1="210.6" x2="923.0" y2="210.6" stroke="#7d7d7d" stroke-width="1"/>
<line x1="920.2" y1="193.4" x2="923.0" y2="193.4" stroke="#7d7d7d" stroke-width="0.9"/>
<line x1="920.2" y1="176.2" x2="923.0" y2="176.2" stroke="#7d7d7d" stroke-width="0.9"/>
<line x1="920.2" y1="159.1" x2="923.0" y2="159.1" stroke="#7d7d7d" stroke-width="0.9"/>
<line x1="920.2" y1="141.9" x2="923.0" y2="141.9" stroke="#7d7d7d" stroke-width="0.9"/>
<line x1="917.5" y1="124.7" x2="923.0" y2="124.7" stroke="#7d7d7d" stroke-width="1"/>
<line x1="923.0" y1="468.3" x2="923.0" y2="473.8" stroke="#7d7d7d" stroke-width="1"/>
<line x1="934.3" y1="468.3" x2="934.3" y2="470.9" stroke="#7d7d7d" stroke-width="0.8"/>
<line x1="945.7" y1="468.3" x2="945.7" y2="470.9" stroke="#7d7d7d" stroke-width="0.8"/>
<line x1="957.0" y1="468.3" x2="957.0" y2="470.9" stroke="#7d7d7d" stroke-width="0.8"/>
<line x1="968.3" y1="468.3" x2="968.3" y2="470.9" stroke="#7d7d7d" stroke-width="0.8"/>
<line x1="979.6" y1="468.3" x2="979.6" y2="470.9" stroke="#7d7d7d" stroke-width="0.8"/>
<line x1="991.0" y1="468.3" x2="991.0" y2="470.9" stroke="#7d7d7d" stroke-width="0.8"/>
<line x1="1002.3" y1="468.3" x2="1002.3" y2="470.9" stroke="#7d7d7d" stroke-width="0.8"/>
<line x1="1013.6" y1="468.3" x2="1013.6" y2="470.9" stroke="#7d7d7d" stroke-width="0.8"/>
<line x1="1025.0" y1="468.3" x2="1025.0" y2="470.9" stroke="#7d7d7d" stroke-width="0.8"/>
<line x1="1036.3" y1="468.3" x2="1036.3" y2="473.8" stroke="#7d7d7d" stroke-width="1"/>
<line x1="1047.6" y1="468.3" x2="1047.6" y2="470.9" stroke="#7d7d7d" stroke-width="0.8"/>
<line x1="1059.0" y1="468.3" x2="1059.0" y2="470.9" stroke="#7d7d7d" stroke-width="0.8"/>
<line x1="1070.3" y1="468.3" x2="1070.3" y2="470.9" stroke="#7d7d7d" stroke-width="0.8"/>
<line x1="1081.6" y1="468.3" x2="1081.6" y2="470.9" stroke="#7d7d7d" stroke-width="0.8"/>
<line x1="1093.0" y1="468.3" x2="1093.0" y2="470.9" stroke="#7d7d7d" stroke-width="0.8"/>
<line x1="1104.3" y1="468.3" x2="1104.3" y2="470.9" stroke="#7d7d7d" stroke-width="0.8"/>
<line x1="1115.6" y1="468.3" x2="1115.6" y2="470.9" stroke="#7d7d7d" stroke-width="0.8"/>
<line x1="1126.9" y1="468.3" x2="1126.9" y2="470.9" stroke="#7d7d7d" stroke-width="0.8"/>
<line x1="1138.3" y1="468.3" x2="1138.3" y2="470.9" stroke="#7d7d7d" stroke-width="0.8"/>
<line x1="1149.6" y1="468.3" x2="1149.6" y2="473.8" stroke="#7d7d7d" stroke-width="1"/>
<line x1="1160.9" y1="468.3" x2="1160.9" y2="470.9" stroke="#7d7d7d" stroke-width="0.8"/>
<line x1="1172.3" y1="468.3" x2="1172.3" y2="470.9" stroke="#7d7d7d" stroke-width="0.8"/>
<line x1="1183.6" y1="468.3" x2="1183.6" y2="470.9" stroke="#7d7d7d" stroke-width="0.8"/>
<line x1="1194.9" y1="468.3" x2="1194.9" y2="470.9" stroke="#7d7d7d" stroke-width="0.8"/>
<line x1="1206.2" y1="468.3" x2="1206.2" y2="470.9" stroke="#7d7d7d" stroke-width="0.8"/>
<line x1="1217.6" y1="468.3" x2="1217.6" y2="470.9" stroke="#7d7d7d" stroke-width="0.8"/>
<line x1="1228.9" y1="468.3" x2="1228.9" y2="470.9" stroke="#7d7d7d" stroke-width="0.8"/>
<line x1="1240.2" y1="468.3" x2="1240.2" y2="470.9" stroke="#7d7d7d" stroke-width="0.8"/>
<line x1="1251.6" y1="468.3" x2="1251.6" y2="470.9" stroke="#7d7d7d" stroke-width="0.8"/>
<line x1="1262.9" y1="468.3" x2="1262.9" y2="473.8" stroke="#7d7d7d" stroke-width="1"/>
<text x="912.0" y="129.7" font-size="14.2" text-anchor="end" textLength="29.5" lengthAdjust="spacingAndGlyphs" fill="#1a1a1a">0.25</text>
<text x="912.0" y="215.6" font-size="14.2" text-anchor="end" textLength="29.5" lengthAdjust="spacingAndGlyphs" fill="#1a1a1a">0.20</text>
<text x="912.0" y="301.5" font-size="14.2" text-anchor="end" textLength="29.5" lengthAdjust="spacingAndGlyphs" fill="#1a1a1a">0.15</text>
<text x="912.0" y="387.4" font-size="14.2" text-anchor="end" textLength="29.5" lengthAdjust="spacingAndGlyphs" fill="#1a1a1a">0.10</text>
<text x="912.0" y="473.3" font-size="14.2" text-anchor="end" textLength="29.5" lengthAdjust="spacingAndGlyphs" fill="#1a1a1a">0.05</text>
<text x="922.0" y="494.6" font-size="19.4" text-anchor="middle" textLength="11.0" lengthAdjust="spacingAndGlyphs" fill="#1a1a1a">0</text>
<text x="1036.3" y="494.6" font-size="19.4" text-anchor="middle" textLength="21.5" lengthAdjust="spacingAndGlyphs" fill="#1a1a1a">50</text>
<text x="1149.6" y="494.6" font-size="19.4" text-anchor="middle" textLength="32.5" lengthAdjust="spacingAndGlyphs" fill="#1a1a1a">100</text>
<text x="1262.9" y="494.6" font-size="19.4" text-anchor="middle" textLength="32.5" lengthAdjust="spacingAndGlyphs" fill="#1a1a1a">150</text>
<text x="964.0" y="530.5" font-size="26" textLength="278.0" lengthAdjust="spacingAndGlyphs" fill="#1a1a1a">HU concentration (µM)</text>
<line x1="923.0" y1="157.5" x2="923.0" y2="260.2" stroke="#222" stroke-width="1.3"/>
<line x1="919.0" y1="157.5" x2="927.0" y2="157.5" stroke="#222" stroke-width="1.1"/>
<line x1="919.0" y1="189.6" x2="927.0" y2="189.6" stroke="#222" stroke-width="1.1"/>
<line x1="919.0" y1="239.5" x2="927.0" y2="239.5" stroke="#222" stroke-width="1.1"/>
<line x1="919.0" y1="260.2" x2="927.0" y2="260.2" stroke="#222" stroke-width="1.1"/>
<line x1="956.8" y1="174.5" x2="956.8" y2="238.2" stroke="#222" stroke-width="1.1"/>
<line x1="952.5" y1="174.5" x2="961.1" y2="174.5" stroke="#222" stroke-width="1.1"/>
<line x1="952.5" y1="238.2" x2="961.1" y2="238.2" stroke="#222" stroke-width="1.1"/>
<line x1="956.8" y1="286.5" x2="956.8" y2="372.5" stroke="#222" stroke-width="1.1"/>
<line x1="952.5" y1="286.5" x2="961.1" y2="286.5" stroke="#222" stroke-width="1.1"/>
<line x1="952.5" y1="372.5" x2="961.1" y2="372.5" stroke="#222" stroke-width="1.1"/>
<line x1="990.9" y1="204.4" x2="990.9" y2="245.0" stroke="#222" stroke-width="1.1"/>
<line x1="986.6" y1="204.4" x2="995.2" y2="204.4" stroke="#222" stroke-width="1.1"/>
<line x1="986.6" y1="245.0" x2="995.2" y2="245.0" stroke="#222" stroke-width="1.1"/>
<line x1="990.9" y1="299.7" x2="990.9" y2="363.7" stroke="#222" stroke-width="1.1"/>
<line x1="986.6" y1="299.7" x2="995.2" y2="299.7" stroke="#222" stroke-width="1.1"/>
<line x1="986.6" y1="363.7" x2="995.2" y2="363.7" stroke="#222" stroke-width="1.1"/>
<line x1="1058.8" y1="218.8" x2="1058.8" y2="291.3" stroke="#222" stroke-width="1.1"/>
<line x1="1054.5" y1="218.8" x2="1063.1" y2="218.8" stroke="#222" stroke-width="1.1"/>
<line x1="1054.5" y1="291.3" x2="1063.1" y2="291.3" stroke="#222" stroke-width="1.1"/>
<line x1="1058.8" y1="335.8" x2="1058.8" y2="392.5" stroke="#222" stroke-width="1.1"/>
<line x1="1054.5" y1="335.8" x2="1063.1" y2="335.8" stroke="#222" stroke-width="1.1"/>
<line x1="1054.5" y1="392.5" x2="1063.1" y2="392.5" stroke="#222" stroke-width="1.1"/>
<line x1="1127.4" y1="289.2" x2="1127.4" y2="349.6" stroke="#222" stroke-width="1.1"/>
<line x1="1123.1" y1="289.2" x2="1131.7" y2="289.2" stroke="#222" stroke-width="1.1"/>
<line x1="1123.1" y1="349.6" x2="1131.7" y2="349.6" stroke="#222" stroke-width="1.1"/>
<line x1="1127.4" y1="386.6" x2="1127.4" y2="400.7" stroke="#222" stroke-width="1.1"/>
<line x1="1123.1" y1="386.6" x2="1131.7" y2="386.6" stroke="#222" stroke-width="1.1"/>
<line x1="1123.1" y1="400.7" x2="1131.7" y2="400.7" stroke="#222" stroke-width="1.1"/>
<line x1="1263.2" y1="362.0" x2="1263.2" y2="379.7" stroke="#222" stroke-width="1.1"/>
<line x1="1258.9" y1="362.0" x2="1267.5" y2="362.0" stroke="#222" stroke-width="1.1"/>
<line x1="1258.9" y1="379.7" x2="1267.5" y2="379.7" stroke="#222" stroke-width="1.1"/>
<line x1="1263.2" y1="410.2" x2="1263.2" y2="436.2" stroke="#222" stroke-width="1.1"/>
<line x1="1258.9" y1="410.2" x2="1267.5" y2="410.2" stroke="#222" stroke-width="1.1"/>
<line x1="1258.9" y1="436.2" x2="1267.5" y2="436.2" stroke="#222" stroke-width="1.1"/>
<path d="M923.0,203.4 L1127.4,303.0 L1263.2,369.2" fill="none" stroke="#2fa84a" stroke-width="1.8" stroke-linejoin="round"/>
<path d="M923.0,203.4 L923.2,204.5 L923.5,206.4 L924.0,208.8 L924.5,211.7 L925.1,214.8 L925.7,218.2 L926.4,221.7 L927.2,225.5 L928.0,229.3 L928.9,233.2 L929.7,237.2 L930.7,241.2 L931.7,245.2 L932.7,249.2 L933.7,253.2 L934.8,257.2 L936.0,261.1 L937.1,264.9 L938.3,268.7 L939.5,272.4 L940.8,276.0 L942.1,279.6 L943.4,283.0 L944.8,286.4 L946.1,289.7 L947.5,292.9 L949.0,296.0 L950.4,299.0 L951.9,301.9 L953.4,304.7 L954.9,307.4 L956.5,310.1 L958.1,312.7 L959.7,315.1 L961.3,317.5 L963.0,319.9 L964.6,322.1 L966.3,324.3 L968.1,326.4 L969.8,328.5 L971.6,330.5 L973.4,332.4 L975.2,334.3 L977.0,336.1 L978.9,337.8 L980.7,339.5 L982.6,341.2 L984.5,342.8 L986.5,344.4 L988.4,345.9 L990.4,347.4 L992.4,348.9 L994.4,350.3 L996.4,351.6 L998.5,353.0 L1000.5,354.3 L1002.6,355.6 L1004.7,356.9 L1006.8,358.1 L1009.0,359.3 L1011.1,360.5 L1013.3,361.6 L1015.5,362.7 L1017.7,363.8 L1020.0,364.9 L1022.2,366.0 L1024.5,367.0 L1026.7,368.0 L1029.0,369.0 L1031.4,370.0 L1033.7,371.0 L1036.0,371.9 L1038.4,372.9 L1040.8,373.8 L1043.2,374.7 L1045.6,375.5 L1048.0,376.4 L1050.5,377.2 L1052.9,378.0 L1055.4,378.9 L1057.9,379.6 L1060.4,380.4 L1062.9,381.2 L1065.4,381.9 L1068.0,382.7 L1070.6,383.4 L1073.1,384.1 L1075.7,384.8 L1078.3,385.5 L1081.0,386.1 L1083.6,386.8 L1086.3,387.4 L1088.9,388.0 L1091.6,388.7 L1094.3,389.3 L1097.0,389.8 L1099.8,390.4 L1102.5,391.0 L1105.2,391.5 L1108.0,392.1 L1110.8,392.6 L1113.6,393.1 L1116.4,393.6 L1119.2,394.1 L1122.1,394.6 L1124.9,395.1 L1127.8,395.5 L1130.7,396.0 L1133.5,396.4 L1136.5,396.8 L1139.4,397.3 L1142.3,397.7 L1145.2,398.1 L1148.2,398.5 L1151.2,398.8 L1154.2,399.2 L1157.1,399.6 L1160.2,399.9 L1163.2,400.3 L1166.2,400.6 L1169.3,401.0 L1172.3,401.3 L1175.4,401.6 L1178.5,401.9 L1181.6,402.2 L1184.7,402.5 L1187.8,402.8 L1190.9,403.0 L1194.1,403.3 L1197.2,403.6 L1200.4,403.8 L1203.6,404.1 L1206.8,404.3 L1210.0,404.6 L1213.2,404.8 L1216.4,405.0 L1219.7,405.2 L1222.9,405.4 L1226.2,405.6 L1229.5,405.8 L1232.8,406.0 L1236.1,406.2 L1239.4,406.4 L1242.7,406.6 L1246.0,406.8 L1249.4,406.9 L1252.8,407.1 L1256.1,407.2 L1259.5,407.4 L1262.9,407.5" fill="none" stroke="#e8434a" stroke-width="1.8" stroke-linejoin="round"/>
<circle cx="923.0" cy="171.3" r="2.6" fill="#ef4b4b"/>
<circle cx="923.0" cy="176.5" r="2.6" fill="#ef4b4b"/>
<circle cx="923.0" cy="193.6" r="2.6" fill="#3bb44a"/>
<circle cx="923.0" cy="215.9" r="2.6" fill="#3bb44a"/>
<circle cx="923.0" cy="245.0" r="2.6" fill="#ef4b4b"/>
<circle cx="923.0" cy="262.5" r="2.6" fill="#3bb44a"/>
<circle cx="956.8" cy="169.3" r="2.6" fill="#3bb44a"/>
<circle cx="956.8" cy="218.2" r="2.6" fill="#3bb44a"/>
<circle cx="956.8" cy="229.7" r="2.6" fill="#3bb44a"/>
<circle cx="956.8" cy="296.4" r="2.6" fill="#ef4b4b"/>
<circle cx="956.8" cy="311.8" r="2.6" fill="#ef4b4b"/>
<circle cx="956.8" cy="377.8" r="2.6" fill="#ef4b4b"/>
<circle cx="990.9" cy="200.1" r="2.6" fill="#3bb44a"/>
<circle cx="990.9" cy="232.9" r="2.6" fill="#3bb44a"/>
<circle cx="990.9" cy="236.9" r="2.6" fill="#3bb44a"/>
<circle cx="990.9" cy="308.9" r="2.6" fill="#ef4b4b"/>
<circle cx="990.9" cy="316.0" r="2.6" fill="#ef4b4b"/>
<circle cx="990.9" cy="367.6" r="2.6" fill="#ef4b4b"/>
<circle cx="1058.8" cy="212.6" r="2.6" fill="#3bb44a"/>
<circle cx="1058.8" cy="272.3" r="2.6" fill="#3bb44a"/>
<circle cx="1058.8" cy="278.2" r="2.6" fill="#3bb44a"/>
<circle cx="1058.8" cy="339.7" r="2.6" fill="#ef4b4b"/>
<circle cx="1058.8" cy="355.5" r="2.6" fill="#ef4b4b"/>
<circle cx="1058.8" cy="394.8" r="2.6" fill="#ef4b4b"/>
<circle cx="1127.4" cy="286.5" r="2.6" fill="#3bb44a"/>
<circle cx="1127.4" cy="322.7" r="2.6" fill="#3bb44a"/>
<circle cx="1127.4" cy="346.6" r="2.6" fill="#3bb44a"/>
<circle cx="1127.4" cy="386.6" r="2.6" fill="#ef4b4b"/>
<circle cx="1127.4" cy="393.5" r="2.6" fill="#ef4b4b"/>
<circle cx="1127.4" cy="400.0" r="2.6" fill="#ef4b4b"/>
<circle cx="1263.2" cy="362.7" r="2.6" fill="#3bb44a"/>
<circle cx="1263.2" cy="369.2" r="2.6" fill="#3bb44a"/>
<circle cx="1263.2" cy="379.0" r="2.6" fill="#3bb44a"/>
<circle cx="1263.2" cy="407.3" r="2.6" fill="#ef4b4b"/>
<circle cx="1263.2" cy="430.0" r="2.6" fill="#ef4b4b"/>
<circle cx="1263.2" cy="431.5" r="2.6" fill="#ef4b4b"/>
<text x="116.5" y="659.0" font-size="30" font-weight="bold" fill="#231f20">D</text>
<line x1="235.8" y1="861.1" x2="235.8" y2="1140.7" stroke="#231f20" stroke-width="2.2"/>
<line x1="234.8" y1="1140.3" x2="550.8" y2="1140.3" stroke="#231f20" stroke-width="2.2"/>
<line x1="222.3" y1="1139.7" x2="235.8" y2="1139.7" stroke="#231f20" stroke-width="2"/>
<text x="217.2" y="1145.6" font-size="16.6" text-anchor="end" textLength="24.0" lengthAdjust="spacingAndGlyphs" fill="#231f20">0.0</text>
<line x1="222.3" y1="1070.3" x2="235.8" y2="1070.3" stroke="#231f20" stroke-width="2"/>
<text x="217.2" y="1076.2" font-size="16.6" text-anchor="end" textLength="24.0" lengthAdjust="spacingAndGlyphs" fill="#231f20">0.1</text>
<line x1="222.3" y1="1000.9" x2="235.8" y2="1000.9" stroke="#231f20" stroke-width="2"/>
<text x="217.2" y="1006.8" font-size="16.6" text-anchor="end" textLength="24.0" lengthAdjust="spacingAndGlyphs" fill="#231f20">0.2</text>
<line x1="222.3" y1="931.5" x2="235.8" y2="931.5" stroke="#231f20" stroke-width="2"/>
<text x="217.2" y="937.4" font-size="16.6" text-anchor="end" textLength="24.0" lengthAdjust="spacingAndGlyphs" fill="#231f20">0.3</text>
<line x1="222.3" y1="862.1" x2="235.8" y2="862.1" stroke="#231f20" stroke-width="2"/>
<text x="217.2" y="868.0" font-size="16.6" text-anchor="end" textLength="24.0" lengthAdjust="spacingAndGlyphs" fill="#231f20">0.4</text>
<line x1="269.4" y1="1140.3" x2="269.4" y2="1152.7" stroke="#231f20" stroke-width="2"/>
<line x1="318.8" y1="1140.3" x2="318.8" y2="1152.7" stroke="#231f20" stroke-width="2"/>
<line x1="368.1" y1="1140.3" x2="368.1" y2="1152.7" stroke="#231f20" stroke-width="2"/>
<line x1="417.4" y1="1140.3" x2="417.4" y2="1152.7" stroke="#231f20" stroke-width="2"/>
<line x1="466.8" y1="1140.3" x2="466.8" y2="1152.7" stroke="#231f20" stroke-width="2"/>
<line x1="516.1" y1="1140.3" x2="516.1" y2="1152.7" stroke="#231f20" stroke-width="2"/>
<rect x="253.2" y="942.4" width="31.6" height="197.9" fill="#d1d3d4" stroke="#231f20" stroke-width="1.5"/>
<line x1="269.0" y1="930.0" x2="269.0" y2="952.9" stroke="#231f20" stroke-width="1.8"/>
<line x1="261.5" y1="930.0" x2="276.5" y2="930.0" stroke="#231f20" stroke-width="1.7"/>
<line x1="261.5" y1="952.9" x2="276.5" y2="952.9" stroke="#231f20" stroke-width="1.7"/>
<circle cx="269.5" cy="929.2" r="4.25" fill="#231f20"/>
<circle cx="281.0" cy="944.2" r="4.25" fill="#231f20"/>
<circle cx="257.7" cy="951.7" r="4.25" fill="#231f20"/>
<rect x="302.7" y="970.0" width="31.6" height="170.3" fill="#b9d7f1" stroke="#231f20" stroke-width="1.5"/>
<line x1="318.5" y1="954.5" x2="318.5" y2="984.0" stroke="#231f20" stroke-width="1.8"/>
<line x1="311.0" y1="954.5" x2="326.0" y2="954.5" stroke="#231f20" stroke-width="1.7"/>
<line x1="311.0" y1="984.0" x2="326.0" y2="984.0" stroke="#231f20" stroke-width="1.7"/>
<circle cx="318.4" cy="954.3" r="4.25" fill="#231f20"/>
<circle cx="318.4" cy="967.5" r="4.25" fill="#231f20"/>
<circle cx="318.4" cy="984.4" r="4.25" fill="#231f20"/>
<rect x="352.1" y="964.7" width="31.6" height="175.6" fill="#5b96d3" stroke="#231f20" stroke-width="1.5"/>
<line x1="367.9" y1="955.4" x2="367.9" y2="972.6" stroke="#231f20" stroke-width="1.8"/>
<line x1="360.4" y1="955.4" x2="375.4" y2="955.4" stroke="#231f20" stroke-width="1.7"/>
<line x1="360.4" y1="972.6" x2="375.4" y2="972.6" stroke="#231f20" stroke-width="1.7"/>
<circle cx="356.0" cy="956.2" r="4.25" fill="#231f20"/>
<circle cx="379.4" cy="962.1" r="4.25" fill="#231f20"/>
<circle cx="367.9" cy="973.7" r="4.25" fill="#231f20"/>
<rect x="401.6" y="998.8" width="31.6" height="141.5" fill="#b087c4" stroke="#231f20" stroke-width="1.5"/>
<line x1="417.4" y1="990.0" x2="417.4" y2="1007.0" stroke="#231f20" stroke-width="1.8"/>
<line x1="409.9" y1="990.0" x2="424.9" y2="990.0" stroke="#231f20" stroke-width="1.7"/>
<line x1="409.9" y1="1007.0" x2="424.9" y2="1007.0" stroke="#231f20" stroke-width="1.7"/>
<circle cx="417.1" cy="988.9" r="4.25" fill="#231f20"/>
<circle cx="405.3" cy="1004.6" r="4.25" fill="#231f20"/>
<circle cx="429.2" cy="1002.6" r="4.25" fill="#231f20"/>
<rect x="451.1" y="983.0" width="31.6" height="157.3" fill="#7a4ca2" stroke="#231f20" stroke-width="1.5"/>
<line x1="466.9" y1="970.0" x2="466.9" y2="995.6" stroke="#231f20" stroke-width="1.8"/>
<line x1="459.4" y1="970.0" x2="474.4" y2="970.0" stroke="#231f20" stroke-width="1.7"/>
<line x1="459.4" y1="995.6" x2="474.4" y2="995.6" stroke="#231f20" stroke-width="1.7"/>
<circle cx="466.3" cy="968.3" r="4.25" fill="#231f20"/>
<circle cx="455.0" cy="993.4" r="4.25" fill="#231f20"/>
<circle cx="478.4" cy="987.2" r="4.25" fill="#231f20"/>
<rect x="500.6" y="1008.5" width="31.6" height="131.8" fill="#1b8198" stroke="#231f20" stroke-width="1.5"/>
<line x1="516.4" y1="987.2" x2="516.4" y2="1029.4" stroke="#231f20" stroke-width="1.8"/>
<line x1="508.9" y1="987.2" x2="523.9" y2="987.2" stroke="#231f20" stroke-width="1.7"/>
<line x1="508.9" y1="1029.4" x2="523.9" y2="1029.4" stroke="#231f20" stroke-width="1.7"/>
<circle cx="516.0" cy="991.0" r="4.25" fill="#231f20"/>
<circle cx="516.0" cy="1001.8" r="4.25" fill="#231f20"/>
<circle cx="516.0" cy="1031.0" r="4.25" fill="#231f20"/>
<text x="186.2" y="696.4" font-size="26.2" font-weight="bold" textLength="161.5" lengthAdjust="spacingAndGlyphs" fill="#00a651">G12G (WT)/+</text>
<rect x="239.4" y="1154" width="50.3" height="32.6" fill="#eff4fa"/>
<rect x="239.4" y="1186.4" width="50.3" height="34" fill="#f0e8f3"/>
<text x="264.6" y="1176.6" font-size="19.4" text-anchor="middle" textLength="11.0" lengthAdjust="spacingAndGlyphs" fill="#231f20">0</text>
<text x="264.6" y="1211.3" font-size="19.4" text-anchor="middle" textLength="11.0" lengthAdjust="spacingAndGlyphs" fill="#231f20">0</text>
<rect x="289.4" y="1154" width="50.2" height="32.6" fill="#d6e8f7"/>
<rect x="289.4" y="1186.4" width="50.2" height="34" fill="#e8d9ec"/>
<text x="314.6" y="1176.6" font-size="19.4" text-anchor="middle" textLength="21.5" lengthAdjust="spacingAndGlyphs" fill="#231f20">15</text>
<text x="314.6" y="1211.3" font-size="19.4" text-anchor="middle" textLength="27.5" lengthAdjust="spacingAndGlyphs" fill="#231f20">0.1</text>
<rect x="339.3" y="1154" width="50.5" height="32.6" fill="#7ccbf1"/>
<rect x="339.3" y="1186.4" width="50.5" height="34" fill="#e8d9ec"/>
<text x="364.6" y="1176.6" font-size="19.4" text-anchor="middle" textLength="21.5" lengthAdjust="spacingAndGlyphs" fill="#231f20">30</text>
<text x="364.6" y="1211.3" font-size="19.4" text-anchor="middle" textLength="27.5" lengthAdjust="spacingAndGlyphs" fill="#231f20">0.1</text>
<rect x="389.5" y="1154" width="50.5" height="32.6" fill="#d6e8f7"/>
<rect x="389.5" y="1186.4" width="50.5" height="34" fill="#b784c0"/>
<text x="414.8" y="1176.6" font-size="19.4" text-anchor="middle" textLength="21.5" lengthAdjust="spacingAndGlyphs" fill="#231f20">15</text>
<text x="414.8" y="1211.3" font-size="19.4" text-anchor="middle" textLength="11.0" lengthAdjust="spacingAndGlyphs" fill="#231f20">1</text>
<rect x="439.7" y="1154" width="50.5" height="32.6" fill="#7ccbf1"/>
<rect x="439.7" y="1186.4" width="50.5" height="34" fill="#b784c0"/>
<text x="465.0" y="1176.6" font-size="19.4" text-anchor="middle" textLength="21.5" lengthAdjust="spacingAndGlyphs" fill="#231f20">30</text>
<text x="465.0" y="1211.3" font-size="19.4" text-anchor="middle" textLength="11.0" lengthAdjust="spacingAndGlyphs" fill="#231f20">1</text>
<rect x="489.9" y="1154" width="50.6" height="32.6" fill="#00a8e6"/>
<rect x="489.9" y="1186.4" width="50.6" height="34" fill="#9b2b93"/>
<text x="515.2" y="1176.6" font-size="19.4" text-anchor="middle" textLength="21.5" lengthAdjust="spacingAndGlyphs" fill="#231f20">60</text>
<text x="515.2" y="1211.3" font-size="19.4" text-anchor="middle" textLength="21.5" lengthAdjust="spacingAndGlyphs" fill="#231f20">10</text>
<text x="228.8" y="1176.6" font-size="19.6" text-anchor="end" textLength="81.5" lengthAdjust="spacingAndGlyphs" fill="#231f20">HU (µM)</text>
<text x="228.8" y="1211.3" font-size="19.6" text-anchor="end" textLength="112.8" lengthAdjust="spacingAndGlyphs" fill="#231f20">U0126 (µM)</text>
<path d="M269.7,782.4 V738.3 H517.5 V757.4" fill="none" stroke="#231f20" stroke-width="1.5"/>
<text x="371.0 381.3 391.6" y="737.9" font-size="16.5" class="st" fill="#231f20" stroke="#231f20" stroke-width="0.45">***</text>
<path d="M319.5,782.4 V764.2 H517.5 V808.3" fill="none" stroke="#231f20" stroke-width="1.5"/>
<text x="414.5" y="763.8" font-size="16.5" class="st" fill="#231f20" stroke="#231f20" stroke-width="0.45">*</text>
<path d="M269.7,859.2 V789.7 H468.0 V797.3" fill="none" stroke="#231f20" stroke-width="1.5"/>
<text x="365.0" y="789.3" font-size="16.5" class="st" fill="#231f20" stroke="#231f20" stroke-width="0.45">*</text>
<path d="M368.7,822.6 V815.9 H517.5 V885.4" fill="none" stroke="#231f20" stroke-width="1.5"/>
<text x="439.0" y="815.5" font-size="16.5" class="st" fill="#231f20" stroke="#231f20" stroke-width="0.45">*</text>
<path d="M319.5,848.0 V840.9 H468.0 V874.1" fill="none" stroke="#231f20" stroke-width="1.5"/>
<text x="391.5" y="834.9" font-size="12.3" text-anchor="middle" textLength="12.0" lengthAdjust="spacingAndGlyphs" fill="#231f20">ns</text>
<path d="M269.7,911.2 V866.5 H418.5 V885.9" fill="none" stroke="#231f20" stroke-width="1.5"/>
<text x="330.9 341.2" y="866.1" font-size="16.5" class="st" fill="#231f20" stroke="#231f20" stroke-width="0.45">**</text>
<path d="M319.5,900.0 V893.0 H412.3 V900.0" fill="none" stroke="#231f20" stroke-width="1.5"/>
<text x="363.5" y="887.0" font-size="12.3" text-anchor="middle" textLength="12.0" lengthAdjust="spacingAndGlyphs" fill="#231f20">ns</text>
<path d="M424.4,900.0 V893.0 H517.5 V949.2" fill="none" stroke="#231f20" stroke-width="1.5"/>
<text x="469.0" y="887.0" font-size="12.3" text-anchor="middle" textLength="12.0" lengthAdjust="spacingAndGlyphs" fill="#231f20">ns</text>
<path d="M269.7,921.5 V918.3 H362.8 V936.0" fill="none" stroke="#231f20" stroke-width="1.5"/>
<text x="316.5" y="912.3" font-size="12.3" text-anchor="middle" textLength="12.0" lengthAdjust="spacingAndGlyphs" fill="#231f20">ns</text>
<path d="M374.9,936.0 V918.3 H468.0 V942.0" fill="none" stroke="#231f20" stroke-width="1.5"/>
<text x="419.5" y="912.3" font-size="12.3" text-anchor="middle" textLength="12.0" lengthAdjust="spacingAndGlyphs" fill="#231f20">ns</text>
<line x1="746.5" y1="861.0" x2="746.5" y2="1141.0" stroke="#231f20" stroke-width="2.2"/>
<line x1="745.5" y1="1140.6" x2="1061.5" y2="1140.6" stroke="#231f20" stroke-width="2.2"/>
<line x1="733.0" y1="1140.0" x2="746.5" y2="1140.0" stroke="#231f20" stroke-width="2"/>
<text x="727.9" y="1145.9" font-size="16.6" text-anchor="end" textLength="24.0" lengthAdjust="spacingAndGlyphs" fill="#231f20">0.0</text>
<line x1="733.0" y1="1070.5" x2="746.5" y2="1070.5" stroke="#231f20" stroke-width="2"/>
<text x="727.9" y="1076.4" font-size="16.6" text-anchor="end" textLength="24.0" lengthAdjust="spacingAndGlyphs" fill="#231f20">0.2</text>
<line x1="733.0" y1="1001.0" x2="746.5" y2="1001.0" stroke="#231f20" stroke-width="2"/>
<text x="727.9" y="1006.9" font-size="16.6" text-anchor="end" textLength="24.0" lengthAdjust="spacingAndGlyphs" fill="#231f20">0.4</text>
<line x1="733.0" y1="931.5" x2="746.5" y2="931.5" stroke="#231f20" stroke-width="2"/>
<text x="727.9" y="937.4" font-size="16.6" text-anchor="end" textLength="24.0" lengthAdjust="spacingAndGlyphs" fill="#231f20">0.6</text>
<line x1="733.0" y1="862.0" x2="746.5" y2="862.0" stroke="#231f20" stroke-width="2"/>
<text x="727.9" y="867.9" font-size="16.6" text-anchor="end" textLength="24.0" lengthAdjust="spacingAndGlyphs" fill="#231f20">0.8</text>
<line x1="778.8" y1="1140.6" x2="778.8" y2="1153.0" stroke="#231f20" stroke-width="2"/>
<line x1="827.9" y1="1140.6" x2="827.9" y2="1153.0" stroke="#231f20" stroke-width="2"/>
<line x1="877.0" y1="1140.6" x2="877.0" y2="1153.0" stroke="#231f20" stroke-width="2"/>
<line x1="926.1" y1="1140.6" x2="926.1" y2="1153.0" stroke="#231f20" stroke-width="2"/>
<line x1="975.3" y1="1140.6" x2="975.3" y2="1153.0" stroke="#231f20" stroke-width="2"/>
<line x1="1024.4" y1="1140.6" x2="1024.4" y2="1153.0" stroke="#231f20" stroke-width="2"/>
<rect x="763.6" y="952.8" width="31.6" height="187.8" fill="#d1d3d4" stroke="#231f20" stroke-width="1.5"/>
<line x1="779.4" y1="936.9" x2="779.4" y2="968.4" stroke="#231f20" stroke-width="1.8"/>
<line x1="771.9" y1="936.9" x2="786.9" y2="936.9" stroke="#231f20" stroke-width="1.7"/>
<line x1="771.9" y1="968.4" x2="786.9" y2="968.4" stroke="#231f20" stroke-width="1.7"/>
<circle cx="767.5" cy="938.8" r="4.25" fill="#231f20"/>
<circle cx="791.0" cy="947.2" r="4.25" fill="#231f20"/>
<circle cx="779.0" cy="970.0" r="4.25" fill="#231f20"/>
<rect x="812.6" y="976.3" width="31.6" height="164.3" fill="#b9d7f1" stroke="#231f20" stroke-width="1.5"/>
<line x1="828.4" y1="969.7" x2="828.4" y2="981.0" stroke="#231f20" stroke-width="1.8"/>
<line x1="820.9" y1="969.7" x2="835.9" y2="969.7" stroke="#231f20" stroke-width="1.7"/>
<line x1="820.9" y1="981.0" x2="835.9" y2="981.0" stroke="#231f20" stroke-width="1.7"/>
<circle cx="816.9" cy="969.7" r="4.25" fill="#231f20"/>
<circle cx="816.9" cy="980.6" r="4.25" fill="#231f20"/>
<circle cx="840.0" cy="975.3" r="4.25" fill="#231f20"/>
<rect x="861.7" y="1009.4" width="31.6" height="131.2" fill="#5b96d3" stroke="#231f20" stroke-width="1.5"/>
<line x1="877.5" y1="1002.8" x2="877.5" y2="1015.3" stroke="#231f20" stroke-width="1.8"/>
<line x1="870.0" y1="1002.8" x2="885.0" y2="1002.8" stroke="#231f20" stroke-width="1.7"/>
<line x1="870.0" y1="1015.3" x2="885.0" y2="1015.3" stroke="#231f20" stroke-width="1.7"/>
<circle cx="877.2" cy="1001.6" r="4.25" fill="#231f20"/>
<circle cx="866.0" cy="1013.8" r="4.25" fill="#231f20"/>
<circle cx="888.8" cy="1011.9" r="4.25" fill="#231f20"/>
<rect x="910.8" y="1012.8" width="31.6" height="127.8" fill="#b087c4" stroke="#231f20" stroke-width="1.5"/>
<line x1="926.6" y1="994.0" x2="926.6" y2="1030.6" stroke="#231f20" stroke-width="1.8"/>
<line x1="919.1" y1="994.0" x2="934.1" y2="994.0" stroke="#231f20" stroke-width="1.7"/>
<line x1="919.1" y1="1030.6" x2="934.1" y2="1030.6" stroke="#231f20" stroke-width="1.7"/>
<circle cx="926.6" cy="994.0" r="4.25" fill="#231f20"/>
<circle cx="926.6" cy="1011.3" r="4.25" fill="#231f20"/>
<circle cx="926.6" cy="1030.6" r="4.25" fill="#231f20"/>
<rect x="959.8" y="1034.7" width="31.6" height="105.9" fill="#8a64af" stroke="#231f20" stroke-width="1.5"/>
<line x1="975.6" y1="1027.8" x2="975.6" y2="1040.3" stroke="#231f20" stroke-width="1.8"/>
<line x1="968.1" y1="1027.8" x2="983.1" y2="1027.8" stroke="#231f20" stroke-width="1.7"/>
<line x1="968.1" y1="1040.3" x2="983.1" y2="1040.3" stroke="#231f20" stroke-width="1.7"/>
<circle cx="963.8" cy="1030.0" r="4.25" fill="#231f20"/>
<circle cx="987.2" cy="1031.6" r="4.25" fill="#231f20"/>
<circle cx="975.3" cy="1041.6" r="4.25" fill="#231f20"/>
<rect x="1008.9" y="1058.8" width="31.6" height="81.8" fill="#1b8198" stroke="#231f20" stroke-width="1.5"/>
<line x1="1024.7" y1="1040.6" x2="1024.7" y2="1076.0" stroke="#231f20" stroke-width="1.8"/>
<line x1="1017.2" y1="1040.6" x2="1032.2" y2="1040.6" stroke="#231f20" stroke-width="1.7"/>
<line x1="1017.2" y1="1076.0" x2="1032.2" y2="1076.0" stroke="#231f20" stroke-width="1.7"/>
<circle cx="1024.4" cy="1043.4" r="4.25" fill="#231f20"/>
<circle cx="1024.4" cy="1052.8" r="4.25" fill="#231f20"/>
<circle cx="1024.4" cy="1077.5" r="4.25" fill="#231f20"/>
<text x="707.6" y="696.4" font-size="26.2" font-weight="bold" textLength="93.0" lengthAdjust="spacingAndGlyphs" fill="#e14e2b">G12V/+</text>
<rect x="749.4" y="1154" width="50.9" height="32.6" fill="#eff4fa"/>
<rect x="749.4" y="1186.4" width="50.9" height="34" fill="#f0e8f3"/>
<text x="774.9" y="1176.6" font-size="19.4" text-anchor="middle" textLength="11.0" lengthAdjust="spacingAndGlyphs" fill="#231f20">0</text>
<text x="774.9" y="1211.3" font-size="19.4" text-anchor="middle" textLength="11.0" lengthAdjust="spacingAndGlyphs" fill="#231f20">0</text>
<rect x="800.0" y="1154" width="50.9" height="32.6" fill="#d6e8f7"/>
<rect x="800.0" y="1186.4" width="50.9" height="34" fill="#e8d9ec"/>
<text x="825.5" y="1176.6" font-size="19.4" text-anchor="middle" textLength="21.5" lengthAdjust="spacingAndGlyphs" fill="#231f20">15</text>
<text x="825.5" y="1211.3" font-size="19.4" text-anchor="middle" textLength="27.5" lengthAdjust="spacingAndGlyphs" fill="#231f20">0.1</text>
<rect x="850.6" y="1154" width="50.7" height="32.6" fill="#7ccbf1"/>
<rect x="850.6" y="1186.4" width="50.7" height="34" fill="#e8d9ec"/>
<text x="876.0" y="1176.6" font-size="19.4" text-anchor="middle" textLength="21.5" lengthAdjust="spacingAndGlyphs" fill="#231f20">30</text>
<text x="876.0" y="1211.3" font-size="19.4" text-anchor="middle" textLength="27.5" lengthAdjust="spacingAndGlyphs" fill="#231f20">0.1</text>
<rect x="901.0" y="1154" width="50.9" height="32.6" fill="#d6e8f7"/>
<rect x="901.0" y="1186.4" width="50.9" height="34" fill="#b784c0"/>
<text x="926.5" y="1176.6" font-size="19.4" text-anchor="middle" textLength="21.5" lengthAdjust="spacingAndGlyphs" fill="#231f20">15</text>
<text x="926.5" y="1211.3" font-size="19.4" text-anchor="middle" textLength="11.0" lengthAdjust="spacingAndGlyphs" fill="#231f20">1</text>
<rect x="951.6" y="1154" width="50.6" height="32.6" fill="#7ccbf1"/>
<rect x="951.6" y="1186.4" width="50.6" height="34" fill="#b784c0"/>
<text x="977.0" y="1176.6" font-size="19.4" text-anchor="middle" textLength="21.5" lengthAdjust="spacingAndGlyphs" fill="#231f20">30</text>
<text x="977.0" y="1211.3" font-size="19.4" text-anchor="middle" textLength="11.0" lengthAdjust="spacingAndGlyphs" fill="#231f20">1</text>
<rect x="1001.9" y="1154" width="50.9" height="32.6" fill="#00a8e6"/>
<rect x="1001.9" y="1186.4" width="50.9" height="34" fill="#9b2b93"/>
<text x="1027.4" y="1176.6" font-size="19.4" text-anchor="middle" textLength="21.5" lengthAdjust="spacingAndGlyphs" fill="#231f20">60</text>
<text x="1027.4" y="1211.3" font-size="19.4" text-anchor="middle" textLength="21.5" lengthAdjust="spacingAndGlyphs" fill="#231f20">10</text>
<text x="738.8" y="1176.6" font-size="19.6" text-anchor="end" textLength="81.5" lengthAdjust="spacingAndGlyphs" fill="#231f20">HU (µM)</text>
<text x="738.8" y="1211.3" font-size="19.6" text-anchor="end" textLength="112.8" lengthAdjust="spacingAndGlyphs" fill="#231f20">U0126 (µM)</text>
<path d="M778.0,782.3 V738.1 H1025.0 V757.1" fill="none" stroke="#231f20" stroke-width="1.5"/>
<text x="877.5 887.8 898.1 908.4" y="737.7" font-size="16.5" class="st" fill="#231f20" stroke="#231f20" stroke-width="0.45">****</text>
<path d="M827.0,772.0 V764.2 H1025.0 V808.5" fill="none" stroke="#231f20" stroke-width="1.5"/>
<text x="897.0 907.3 917.6 927.9" y="763.8" font-size="16.5" class="st" fill="#231f20" stroke="#231f20" stroke-width="0.45">****</text>
<path d="M778.0,859.8 V789.8 H975.7 V797.5" fill="none" stroke="#231f20" stroke-width="1.5"/>
<text x="852.5 862.8 873.1 883.4" y="789.4" font-size="16.5" class="st" fill="#231f20" stroke="#231f20" stroke-width="0.45">****</text>
<path d="M876.6,823.0 V815.3 H1025.0 V885.7" fill="none" stroke="#231f20" stroke-width="1.5"/>
<text x="940.4 950.6" y="814.9" font-size="16.5" class="st" fill="#231f20" stroke="#231f20" stroke-width="0.45">**</text>
<path d="M827.0,848.0 V840.8 H975.7 V873.8" fill="none" stroke="#231f20" stroke-width="1.5"/>
<text x="890.9 901.1" y="840.4" font-size="16.5" class="st" fill="#231f20" stroke="#231f20" stroke-width="0.45">**</text>
<path d="M778.0,911.0 V866.4 H926.1 V885.7" fill="none" stroke="#231f20" stroke-width="1.5"/>
<text x="841.4 851.6" y="866.0" font-size="16.5" class="st" fill="#231f20" stroke="#231f20" stroke-width="0.45">**</text>
<path d="M827.0,900.0 V892.5 H920.0 V900.0" fill="none" stroke="#231f20" stroke-width="1.5"/>
<text x="872.0" y="892.1" font-size="16.5" class="st" fill="#231f20" stroke="#231f20" stroke-width="0.45">*</text>
<path d="M932.4,900.0 V892.5 H1025.0 V970.6" fill="none" stroke="#231f20" stroke-width="1.5"/>
<text x="967.9 978.1" y="892.1" font-size="16.5" class="st" fill="#231f20" stroke="#231f20" stroke-width="0.45">**</text>
<path d="M778.0,923.8 V917.8 H870.6 V954.4" fill="none" stroke="#231f20" stroke-width="1.5"/>
<text x="813.9 824.1" y="917.4" font-size="16.5" class="st" fill="#231f20" stroke="#231f20" stroke-width="0.45">**</text>
<path d="M882.8,954.4 V917.8 H975.3 V965.0" fill="none" stroke="#231f20" stroke-width="1.5"/>
<text x="927.0" y="911.8" font-size="12.3" text-anchor="middle" textLength="12.0" lengthAdjust="spacingAndGlyphs" fill="#231f20">ns</text>
</svg></body></html>
